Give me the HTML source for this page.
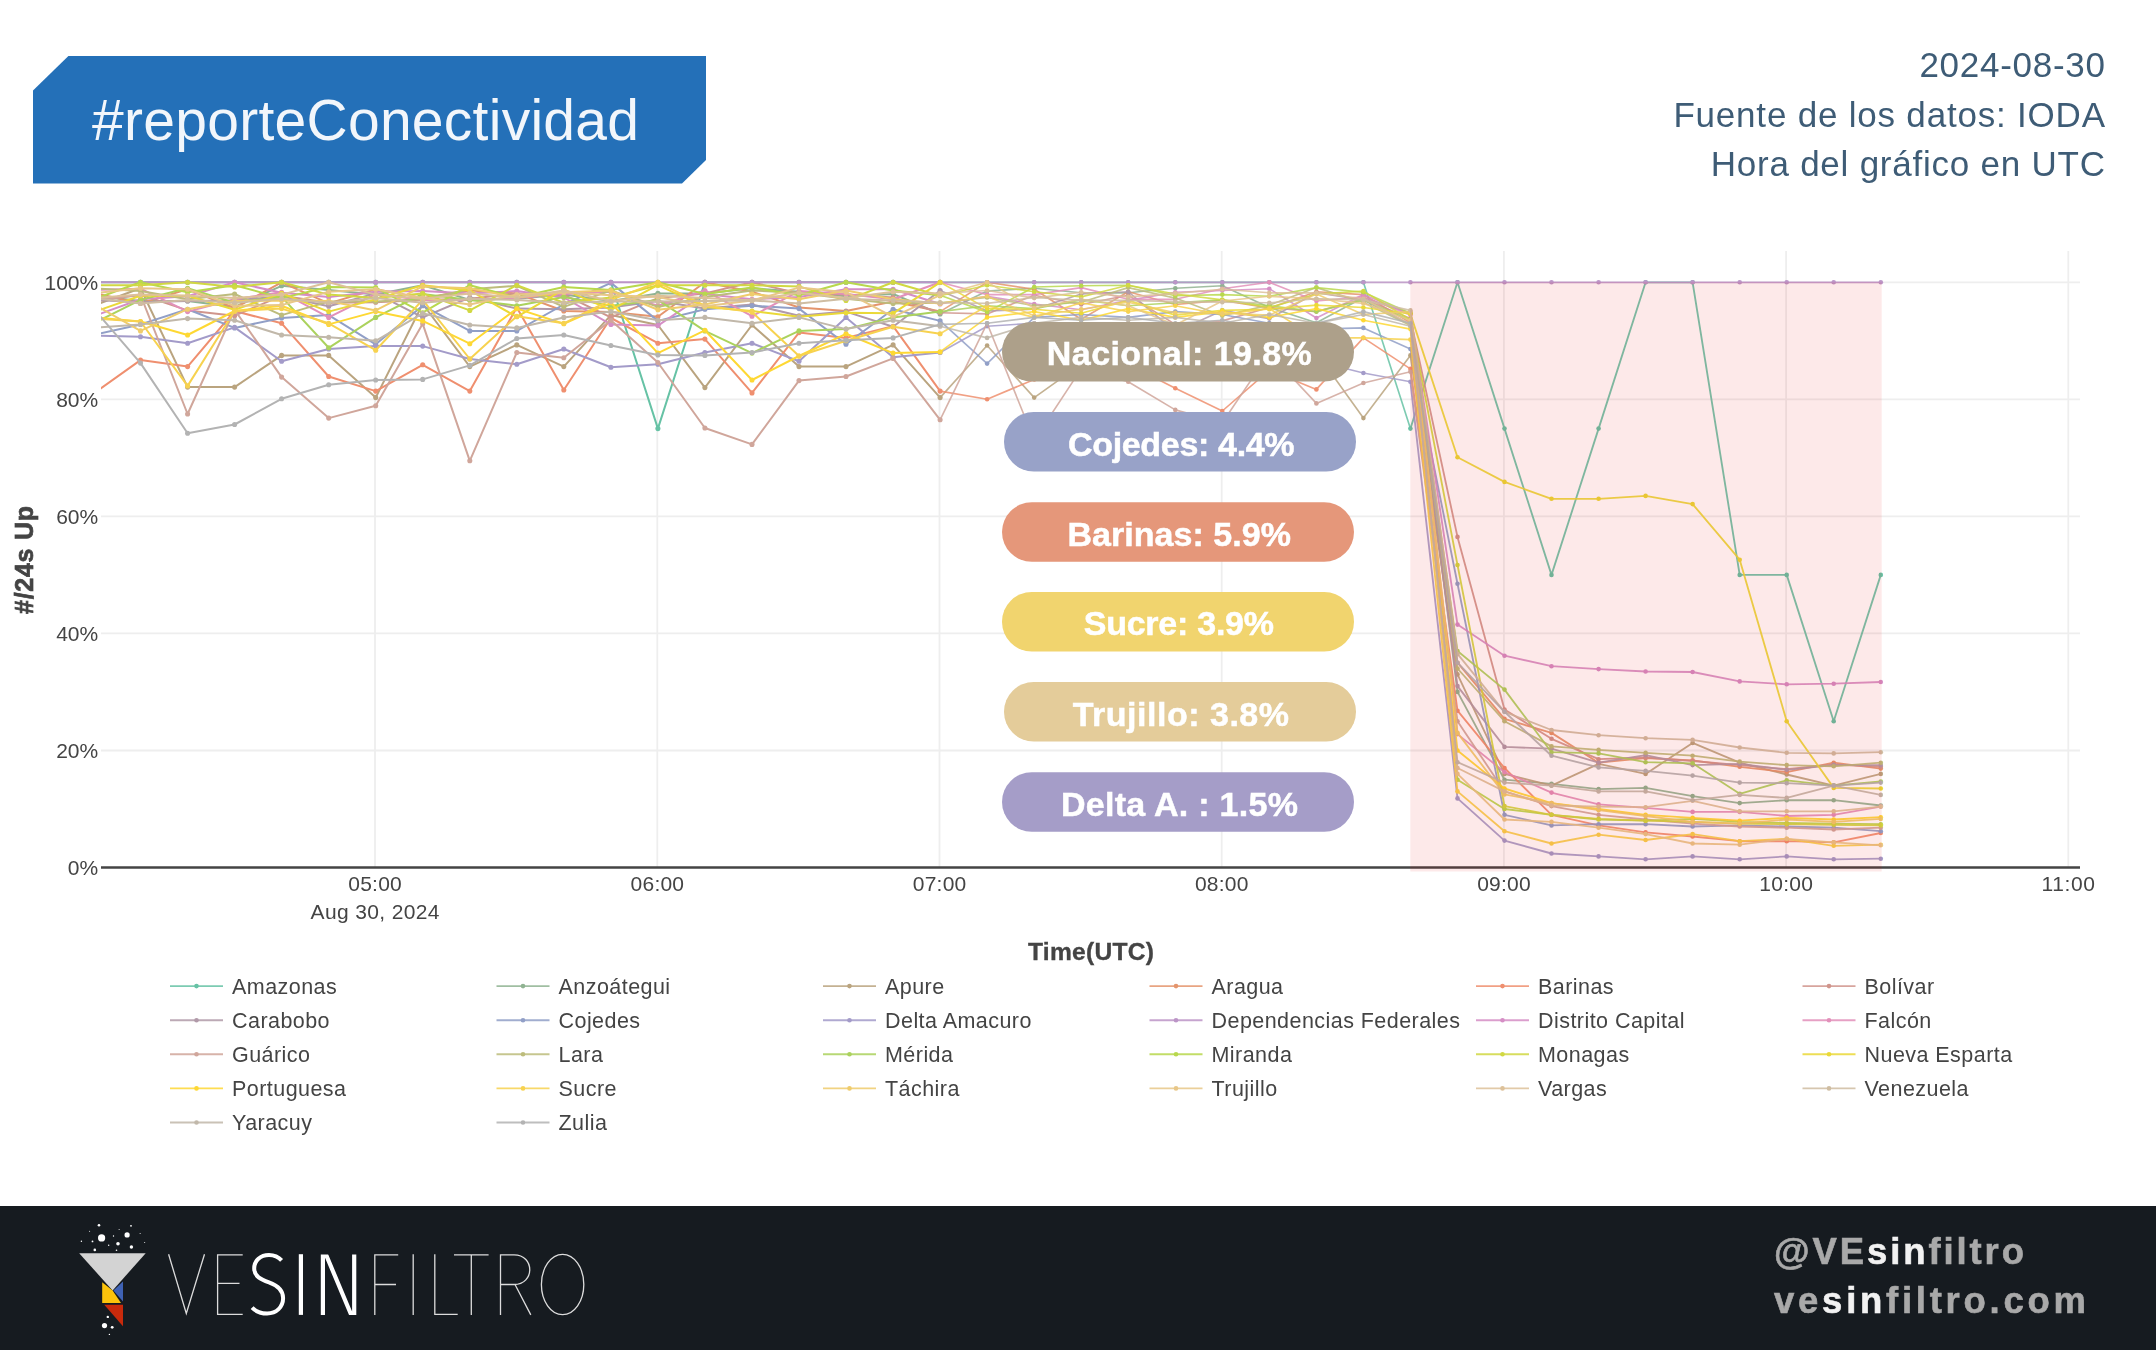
<!DOCTYPE html>
<html><head><meta charset="utf-8"><title>reporteConectividad</title>
<style>html,body{margin:0;padding:0;background:#fff;width:2156px;height:1350px;overflow:hidden;font-family:"Liberation Sans",sans-serif}</style></head>
<body>
<svg width="2156" height="1350" viewBox="0 0 2156 1350" style="position:absolute;left:0;top:0;will-change:transform;font-family:'Liberation Sans',sans-serif">
<defs><clipPath id="cp"><rect x="101" y="251" width="1979" height="621"/></clipPath></defs>
<line x1="375" y1="251" x2="375" y2="867" stroke="#eeeeee" stroke-width="1.8"/>
<line x1="657.3" y1="251" x2="657.3" y2="867" stroke="#eeeeee" stroke-width="1.8"/>
<line x1="939.5" y1="251" x2="939.5" y2="867" stroke="#eeeeee" stroke-width="1.8"/>
<line x1="1221.7" y1="251" x2="1221.7" y2="867" stroke="#eeeeee" stroke-width="1.8"/>
<line x1="1503.9" y1="251" x2="1503.9" y2="867" stroke="#eeeeee" stroke-width="1.8"/>
<line x1="1786.1" y1="251" x2="1786.1" y2="867" stroke="#eeeeee" stroke-width="1.8"/>
<line x1="2068.3" y1="251" x2="2068.3" y2="867" stroke="#eeeeee" stroke-width="1.8"/>
<line x1="101" y1="750.5" x2="2080" y2="750.5" stroke="#eeeeee" stroke-width="1.8"/>
<line x1="101" y1="633.4" x2="2080" y2="633.4" stroke="#eeeeee" stroke-width="1.8"/>
<line x1="101" y1="516.4" x2="2080" y2="516.4" stroke="#eeeeee" stroke-width="1.8"/>
<line x1="101" y1="399.3" x2="2080" y2="399.3" stroke="#eeeeee" stroke-width="1.8"/>
<line x1="101" y1="282.3" x2="2080" y2="282.3" stroke="#eeeeee" stroke-width="1.8"/>
<line x1="101" y1="867.5" x2="2080" y2="867.5" stroke="#444" stroke-width="2.4"/>
<g clip-path="url(#cp)" fill="none" stroke-linejoin="round" stroke-linecap="round">
<g opacity="1"><polyline points="93.5,282.3 140.5,282.3 187.6,282.3 234.6,282.3 281.6,282.3 328.7,282.3 375.7,282.3 422.7,282.3 469.8,282.3 516.8,282.3 563.8,282.3 610.9,282.3 657.9,428.6 704.9,282.3 752.0,282.3 799.0,282.3 846.0,282.3 893.1,282.3 940.1,282.3" stroke="rgb(102,194,165)" stroke-width="2.0"/><polyline points="940.1,282.3 987.1,282.3 1034.2,282.3 1081.2,282.3 1128.2,282.3 1175.3,282.3 1222.3,282.3 1269.3,282.3 1316.4,282.3 1363.4,282.3 1410.4,428.6" stroke="rgb(102,194,165)" stroke-width="1.65" opacity="0.85"/><polyline points="1410.4,428.6 1457.5,282.3 1504.5,428.6 1551.5,574.9 1598.6,428.6 1645.6,282.3 1692.6,282.3 1739.7,574.9 1786.7,574.9 1833.7,721.2 1880.8,574.9" stroke="rgb(102,194,165)" stroke-width="1.85" opacity="0.9"/>
<g fill="rgb(102,194,165)" stroke="none"><circle cx="93.5" cy="282.3" r="2.55"/><circle cx="140.5" cy="282.3" r="2.55"/><circle cx="187.6" cy="282.3" r="2.55"/><circle cx="234.6" cy="282.3" r="2.55"/><circle cx="281.6" cy="282.3" r="2.55"/><circle cx="328.7" cy="282.3" r="2.55"/><circle cx="375.7" cy="282.3" r="2.55"/><circle cx="422.7" cy="282.3" r="2.55"/><circle cx="469.8" cy="282.3" r="2.55"/><circle cx="516.8" cy="282.3" r="2.55"/><circle cx="563.8" cy="282.3" r="2.55"/><circle cx="610.9" cy="282.3" r="2.55"/><circle cx="657.9" cy="428.6" r="2.55"/><circle cx="704.9" cy="282.3" r="2.55"/><circle cx="752.0" cy="282.3" r="2.55"/><circle cx="799.0" cy="282.3" r="2.55"/><circle cx="846.0" cy="282.3" r="2.55"/><circle cx="893.1" cy="282.3" r="2.55"/><circle cx="940.1" cy="282.3" r="2.55"/><circle cx="987.1" cy="282.3" r="2.3"/><circle cx="1034.2" cy="282.3" r="2.3"/><circle cx="1081.2" cy="282.3" r="2.3"/><circle cx="1128.2" cy="282.3" r="2.3"/><circle cx="1175.3" cy="282.3" r="2.3"/><circle cx="1222.3" cy="282.3" r="2.3"/><circle cx="1269.3" cy="282.3" r="2.3"/><circle cx="1316.4" cy="282.3" r="2.3"/><circle cx="1363.4" cy="282.3" r="2.3"/><circle cx="1410.4" cy="428.6" r="2.3"/><circle cx="1457.5" cy="282.3" r="2.3"/><circle cx="1504.5" cy="428.6" r="2.3"/><circle cx="1551.5" cy="574.9" r="2.3"/><circle cx="1598.6" cy="428.6" r="2.3"/><circle cx="1645.6" cy="282.3" r="2.3"/><circle cx="1692.6" cy="282.3" r="2.3"/><circle cx="1739.7" cy="574.9" r="2.3"/><circle cx="1786.7" cy="574.9" r="2.3"/><circle cx="1833.7" cy="721.2" r="2.3"/><circle cx="1880.8" cy="574.9" r="2.3"/></g></g>
<g opacity="1"><polyline points="93.5,295.8 140.5,301.0 187.6,301.0 234.6,306.9 281.6,285.8 328.7,289.9 375.7,294.6 422.7,285.2 469.8,299.9 516.8,298.7 563.8,294.6 610.9,301.0 657.9,293.4 704.9,293.4 752.0,288.2 799.0,291.7 846.0,296.3 893.1,294.0 940.1,313.9" stroke="rgb(144,179,146)" stroke-width="2.0"/><polyline points="940.1,313.9 987.1,291.1 1034.2,288.2 1081.2,292.8 1128.2,292.8 1175.3,288.2 1222.3,285.8 1269.3,307.5 1316.4,322.7 1363.4,297.5 1410.4,313.3" stroke="rgb(144,179,146)" stroke-width="1.65" opacity="0.85"/><polyline points="1410.4,313.3 1457.5,691.9 1504.5,779.7 1551.5,783.8 1598.6,789.1 1645.6,787.9 1692.6,796.1 1739.7,803.1 1786.7,800.2 1833.7,800.2 1880.8,805.5" stroke="rgb(144,179,146)" stroke-width="1.85" opacity="0.9"/>
<g fill="rgb(144,179,146)" stroke="none"><circle cx="93.5" cy="295.8" r="2.55"/><circle cx="140.5" cy="301.0" r="2.55"/><circle cx="187.6" cy="301.0" r="2.55"/><circle cx="234.6" cy="306.9" r="2.55"/><circle cx="281.6" cy="285.8" r="2.55"/><circle cx="328.7" cy="289.9" r="2.55"/><circle cx="375.7" cy="294.6" r="2.55"/><circle cx="422.7" cy="285.2" r="2.55"/><circle cx="469.8" cy="299.9" r="2.55"/><circle cx="516.8" cy="298.7" r="2.55"/><circle cx="563.8" cy="294.6" r="2.55"/><circle cx="610.9" cy="301.0" r="2.55"/><circle cx="657.9" cy="293.4" r="2.55"/><circle cx="704.9" cy="293.4" r="2.55"/><circle cx="752.0" cy="288.2" r="2.55"/><circle cx="799.0" cy="291.7" r="2.55"/><circle cx="846.0" cy="296.3" r="2.55"/><circle cx="893.1" cy="294.0" r="2.55"/><circle cx="940.1" cy="313.9" r="2.55"/><circle cx="987.1" cy="291.1" r="2.3"/><circle cx="1034.2" cy="288.2" r="2.3"/><circle cx="1081.2" cy="292.8" r="2.3"/><circle cx="1128.2" cy="292.8" r="2.3"/><circle cx="1175.3" cy="288.2" r="2.3"/><circle cx="1222.3" cy="285.8" r="2.3"/><circle cx="1269.3" cy="307.5" r="2.3"/><circle cx="1316.4" cy="322.7" r="2.3"/><circle cx="1363.4" cy="297.5" r="2.3"/><circle cx="1410.4" cy="313.3" r="2.3"/><circle cx="1457.5" cy="691.9" r="2.3"/><circle cx="1504.5" cy="779.7" r="2.3"/><circle cx="1551.5" cy="783.8" r="2.3"/><circle cx="1598.6" cy="789.1" r="2.3"/><circle cx="1645.6" cy="787.9" r="2.3"/><circle cx="1692.6" cy="796.1" r="2.3"/><circle cx="1739.7" cy="803.1" r="2.3"/><circle cx="1786.7" cy="800.2" r="2.3"/><circle cx="1833.7" cy="800.2" r="2.3"/><circle cx="1880.8" cy="805.5" r="2.3"/></g></g>
<g opacity="1"><polyline points="93.5,305.7 140.5,288.2 187.6,387.1 234.6,387.1 281.6,355.4 328.7,355.4 375.7,397.6 422.7,304.0 469.8,366.6 516.8,344.9 563.8,366.6 610.9,315.1 657.9,325.0 704.9,387.6 752.0,325.0 799.0,366.6 846.0,366.6 893.1,344.9 940.1,397.6" stroke="rgb(186,164,127)" stroke-width="2.0"/><polyline points="940.1,397.6 987.1,345.5 1034.2,397.6 1081.2,364.2 1128.2,340.8 1175.3,329.1 1222.3,335.0 1269.3,323.3 1316.4,352.5 1363.4,418.1 1410.4,355.4" stroke="rgb(186,164,127)" stroke-width="1.65" opacity="0.85"/><polyline points="1410.4,355.4 1457.5,674.4 1504.5,773.9 1551.5,785.6 1598.6,763.9 1645.6,773.9 1692.6,742.9 1739.7,762.7 1786.7,774.5 1833.7,785.6 1880.8,773.9" stroke="rgb(186,164,127)" stroke-width="1.85" opacity="0.9"/>
<g fill="rgb(186,164,127)" stroke="none"><circle cx="93.5" cy="305.7" r="2.55"/><circle cx="140.5" cy="288.2" r="2.55"/><circle cx="187.6" cy="387.1" r="2.55"/><circle cx="234.6" cy="387.1" r="2.55"/><circle cx="281.6" cy="355.4" r="2.55"/><circle cx="328.7" cy="355.4" r="2.55"/><circle cx="375.7" cy="397.6" r="2.55"/><circle cx="422.7" cy="304.0" r="2.55"/><circle cx="469.8" cy="366.6" r="2.55"/><circle cx="516.8" cy="344.9" r="2.55"/><circle cx="563.8" cy="366.6" r="2.55"/><circle cx="610.9" cy="315.1" r="2.55"/><circle cx="657.9" cy="325.0" r="2.55"/><circle cx="704.9" cy="387.6" r="2.55"/><circle cx="752.0" cy="325.0" r="2.55"/><circle cx="799.0" cy="366.6" r="2.55"/><circle cx="846.0" cy="366.6" r="2.55"/><circle cx="893.1" cy="344.9" r="2.55"/><circle cx="940.1" cy="397.6" r="2.55"/><circle cx="987.1" cy="345.5" r="2.3"/><circle cx="1034.2" cy="397.6" r="2.3"/><circle cx="1081.2" cy="364.2" r="2.3"/><circle cx="1128.2" cy="340.8" r="2.3"/><circle cx="1175.3" cy="329.1" r="2.3"/><circle cx="1222.3" cy="335.0" r="2.3"/><circle cx="1269.3" cy="323.3" r="2.3"/><circle cx="1316.4" cy="352.5" r="2.3"/><circle cx="1363.4" cy="418.1" r="2.3"/><circle cx="1410.4" cy="355.4" r="2.3"/><circle cx="1457.5" cy="674.4" r="2.3"/><circle cx="1504.5" cy="773.9" r="2.3"/><circle cx="1551.5" cy="785.6" r="2.3"/><circle cx="1598.6" cy="763.9" r="2.3"/><circle cx="1645.6" cy="773.9" r="2.3"/><circle cx="1692.6" cy="742.9" r="2.3"/><circle cx="1739.7" cy="762.7" r="2.3"/><circle cx="1786.7" cy="774.5" r="2.3"/><circle cx="1833.7" cy="785.6" r="2.3"/><circle cx="1880.8" cy="773.9" r="2.3"/></g></g>
<g opacity="1"><polyline points="93.5,292.8 140.5,303.4 187.6,289.3 234.6,308.0 281.6,282.3 328.7,303.4 375.7,289.3 422.7,298.1 469.8,290.5 516.8,293.4 563.8,311.0 610.9,312.1 657.9,316.8 704.9,282.3 752.0,291.7 799.0,307.5 846.0,311.0 893.1,301.6 940.1,311.6" stroke="rgb(228,149,109)" stroke-width="2.0"/><polyline points="940.1,311.6 987.1,282.3 1034.2,289.3 1081.2,319.2 1128.2,291.7 1175.3,304.5 1222.3,300.4 1269.3,308.0 1316.4,291.7 1363.4,294.6 1410.4,322.7" stroke="rgb(228,149,109)" stroke-width="1.65" opacity="0.85"/><polyline points="1410.4,322.7 1457.5,662.7 1504.5,718.9 1551.5,732.9 1598.6,762.7 1645.6,758.1 1692.6,760.4 1739.7,766.8 1786.7,772.1 1833.7,762.7 1880.8,768.6" stroke="rgb(228,149,109)" stroke-width="1.85" opacity="0.9"/>
<g fill="rgb(228,149,109)" stroke="none"><circle cx="93.5" cy="292.8" r="2.55"/><circle cx="140.5" cy="303.4" r="2.55"/><circle cx="187.6" cy="289.3" r="2.55"/><circle cx="234.6" cy="308.0" r="2.55"/><circle cx="281.6" cy="282.3" r="2.55"/><circle cx="328.7" cy="303.4" r="2.55"/><circle cx="375.7" cy="289.3" r="2.55"/><circle cx="422.7" cy="298.1" r="2.55"/><circle cx="469.8" cy="290.5" r="2.55"/><circle cx="516.8" cy="293.4" r="2.55"/><circle cx="563.8" cy="311.0" r="2.55"/><circle cx="610.9" cy="312.1" r="2.55"/><circle cx="657.9" cy="316.8" r="2.55"/><circle cx="704.9" cy="282.3" r="2.55"/><circle cx="752.0" cy="291.7" r="2.55"/><circle cx="799.0" cy="307.5" r="2.55"/><circle cx="846.0" cy="311.0" r="2.55"/><circle cx="893.1" cy="301.6" r="2.55"/><circle cx="940.1" cy="311.6" r="2.55"/><circle cx="987.1" cy="282.3" r="2.3"/><circle cx="1034.2" cy="289.3" r="2.3"/><circle cx="1081.2" cy="319.2" r="2.3"/><circle cx="1128.2" cy="291.7" r="2.3"/><circle cx="1175.3" cy="304.5" r="2.3"/><circle cx="1222.3" cy="300.4" r="2.3"/><circle cx="1269.3" cy="308.0" r="2.3"/><circle cx="1316.4" cy="291.7" r="2.3"/><circle cx="1363.4" cy="294.6" r="2.3"/><circle cx="1410.4" cy="322.7" r="2.3"/><circle cx="1457.5" cy="662.7" r="2.3"/><circle cx="1504.5" cy="718.9" r="2.3"/><circle cx="1551.5" cy="732.9" r="2.3"/><circle cx="1598.6" cy="762.7" r="2.3"/><circle cx="1645.6" cy="758.1" r="2.3"/><circle cx="1692.6" cy="760.4" r="2.3"/><circle cx="1739.7" cy="766.8" r="2.3"/><circle cx="1786.7" cy="772.1" r="2.3"/><circle cx="1833.7" cy="762.7" r="2.3"/><circle cx="1880.8" cy="768.6" r="2.3"/></g></g>
<g opacity="1"><polyline points="93.5,393.5 140.5,360.1 187.6,366.6 234.6,311.0 281.6,323.3 328.7,376.5 375.7,391.1 422.7,364.8 469.8,391.1 516.8,307.5 563.8,390.0 610.9,318.0 657.9,343.2 704.9,339.1 752.0,392.9 799.0,332.6 846.0,337.9 893.1,326.2 940.1,391.1" stroke="rgb(239,143,111)" stroke-width="2.0"/><polyline points="940.1,391.1 987.1,399.3 1034.2,379.4 1081.2,352.5 1128.2,364.2 1175.3,388.2 1222.3,411.0 1269.3,370.1 1316.4,389.4 1363.4,337.9 1410.4,368.9" stroke="rgb(239,143,111)" stroke-width="1.65" opacity="0.85"/><polyline points="1410.4,368.9 1457.5,710.7 1504.5,768.0 1551.5,814.8 1598.6,825.4 1645.6,832.4 1692.6,836.5 1739.7,841.2 1786.7,841.2 1833.7,842.3 1880.8,833.0" stroke="rgb(239,143,111)" stroke-width="1.85" opacity="0.9"/>
<g fill="rgb(239,143,111)" stroke="none"><circle cx="93.5" cy="393.5" r="2.55"/><circle cx="140.5" cy="360.1" r="2.55"/><circle cx="187.6" cy="366.6" r="2.55"/><circle cx="234.6" cy="311.0" r="2.55"/><circle cx="281.6" cy="323.3" r="2.55"/><circle cx="328.7" cy="376.5" r="2.55"/><circle cx="375.7" cy="391.1" r="2.55"/><circle cx="422.7" cy="364.8" r="2.55"/><circle cx="469.8" cy="391.1" r="2.55"/><circle cx="516.8" cy="307.5" r="2.55"/><circle cx="563.8" cy="390.0" r="2.55"/><circle cx="610.9" cy="318.0" r="2.55"/><circle cx="657.9" cy="343.2" r="2.55"/><circle cx="704.9" cy="339.1" r="2.55"/><circle cx="752.0" cy="392.9" r="2.55"/><circle cx="799.0" cy="332.6" r="2.55"/><circle cx="846.0" cy="337.9" r="2.55"/><circle cx="893.1" cy="326.2" r="2.55"/><circle cx="940.1" cy="391.1" r="2.55"/><circle cx="987.1" cy="399.3" r="2.3"/><circle cx="1034.2" cy="379.4" r="2.3"/><circle cx="1081.2" cy="352.5" r="2.3"/><circle cx="1128.2" cy="364.2" r="2.3"/><circle cx="1175.3" cy="388.2" r="2.3"/><circle cx="1222.3" cy="411.0" r="2.3"/><circle cx="1269.3" cy="370.1" r="2.3"/><circle cx="1316.4" cy="389.4" r="2.3"/><circle cx="1363.4" cy="337.9" r="2.3"/><circle cx="1410.4" cy="368.9" r="2.3"/><circle cx="1457.5" cy="710.7" r="2.3"/><circle cx="1504.5" cy="768.0" r="2.3"/><circle cx="1551.5" cy="814.8" r="2.3"/><circle cx="1598.6" cy="825.4" r="2.3"/><circle cx="1645.6" cy="832.4" r="2.3"/><circle cx="1692.6" cy="836.5" r="2.3"/><circle cx="1739.7" cy="841.2" r="2.3"/><circle cx="1786.7" cy="841.2" r="2.3"/><circle cx="1833.7" cy="842.3" r="2.3"/><circle cx="1880.8" cy="833.0" r="2.3"/></g></g>
<g opacity="1"><polyline points="93.5,301.6 140.5,294.6 187.6,310.4 234.6,315.7 281.6,295.8 328.7,302.8 375.7,302.2 422.7,299.9 469.8,298.7 516.8,293.4 563.8,294.6 610.9,317.4 657.9,298.1 704.9,293.4 752.0,282.3 799.0,293.4 846.0,294.6 893.1,297.5 940.1,312.7" stroke="rgb(208,149,140)" stroke-width="2.0"/><polyline points="940.1,312.7 987.1,313.9 1034.2,295.2 1081.2,304.5 1128.2,295.2 1175.3,324.4 1222.3,320.9 1269.3,307.5 1316.4,311.6 1363.4,298.7 1410.4,318.6" stroke="rgb(208,149,140)" stroke-width="1.65" opacity="0.85"/><polyline points="1410.4,318.6 1457.5,536.9 1504.5,709.5 1551.5,738.8 1598.6,759.2 1645.6,757.5 1692.6,761.0 1739.7,765.1 1786.7,769.2 1833.7,764.5 1880.8,766.8" stroke="rgb(208,149,140)" stroke-width="1.85" opacity="0.9"/>
<g fill="rgb(208,149,140)" stroke="none"><circle cx="93.5" cy="301.6" r="2.55"/><circle cx="140.5" cy="294.6" r="2.55"/><circle cx="187.6" cy="310.4" r="2.55"/><circle cx="234.6" cy="315.7" r="2.55"/><circle cx="281.6" cy="295.8" r="2.55"/><circle cx="328.7" cy="302.8" r="2.55"/><circle cx="375.7" cy="302.2" r="2.55"/><circle cx="422.7" cy="299.9" r="2.55"/><circle cx="469.8" cy="298.7" r="2.55"/><circle cx="516.8" cy="293.4" r="2.55"/><circle cx="563.8" cy="294.6" r="2.55"/><circle cx="610.9" cy="317.4" r="2.55"/><circle cx="657.9" cy="298.1" r="2.55"/><circle cx="704.9" cy="293.4" r="2.55"/><circle cx="752.0" cy="282.3" r="2.55"/><circle cx="799.0" cy="293.4" r="2.55"/><circle cx="846.0" cy="294.6" r="2.55"/><circle cx="893.1" cy="297.5" r="2.55"/><circle cx="940.1" cy="312.7" r="2.55"/><circle cx="987.1" cy="313.9" r="2.3"/><circle cx="1034.2" cy="295.2" r="2.3"/><circle cx="1081.2" cy="304.5" r="2.3"/><circle cx="1128.2" cy="295.2" r="2.3"/><circle cx="1175.3" cy="324.4" r="2.3"/><circle cx="1222.3" cy="320.9" r="2.3"/><circle cx="1269.3" cy="307.5" r="2.3"/><circle cx="1316.4" cy="311.6" r="2.3"/><circle cx="1363.4" cy="298.7" r="2.3"/><circle cx="1410.4" cy="318.6" r="2.3"/><circle cx="1457.5" cy="536.9" r="2.3"/><circle cx="1504.5" cy="709.5" r="2.3"/><circle cx="1551.5" cy="738.8" r="2.3"/><circle cx="1598.6" cy="759.2" r="2.3"/><circle cx="1645.6" cy="757.5" r="2.3"/><circle cx="1692.6" cy="761.0" r="2.3"/><circle cx="1739.7" cy="765.1" r="2.3"/><circle cx="1786.7" cy="769.2" r="2.3"/><circle cx="1833.7" cy="764.5" r="2.3"/><circle cx="1880.8" cy="766.8" r="2.3"/></g></g>
<g opacity="1"><polyline points="93.5,299.9 140.5,302.2 187.6,301.0 234.6,300.4 281.6,296.3 328.7,306.3 375.7,293.4 422.7,317.4 469.8,297.5 516.8,308.6 563.8,309.2 610.9,307.5 657.9,301.0 704.9,308.6 752.0,304.5 799.0,315.7 846.0,311.6 893.1,326.8 940.1,290.5" stroke="rgb(177,154,169)" stroke-width="2.0"/><polyline points="940.1,290.5 987.1,311.0 1034.2,309.2 1081.2,294.0 1128.2,291.7 1175.3,332.0 1222.3,310.4 1269.3,318.6 1316.4,292.8 1363.4,299.9 1410.4,324.4" stroke="rgb(177,154,169)" stroke-width="1.65" opacity="0.85"/><polyline points="1410.4,324.4 1457.5,686.1 1504.5,746.9 1551.5,748.7 1598.6,762.7 1645.6,755.1 1692.6,765.1 1739.7,763.9 1786.7,769.8 1833.7,765.1 1880.8,765.1" stroke="rgb(177,154,169)" stroke-width="1.85" opacity="0.9"/>
<g fill="rgb(177,154,169)" stroke="none"><circle cx="93.5" cy="299.9" r="2.55"/><circle cx="140.5" cy="302.2" r="2.55"/><circle cx="187.6" cy="301.0" r="2.55"/><circle cx="234.6" cy="300.4" r="2.55"/><circle cx="281.6" cy="296.3" r="2.55"/><circle cx="328.7" cy="306.3" r="2.55"/><circle cx="375.7" cy="293.4" r="2.55"/><circle cx="422.7" cy="317.4" r="2.55"/><circle cx="469.8" cy="297.5" r="2.55"/><circle cx="516.8" cy="308.6" r="2.55"/><circle cx="563.8" cy="309.2" r="2.55"/><circle cx="610.9" cy="307.5" r="2.55"/><circle cx="657.9" cy="301.0" r="2.55"/><circle cx="704.9" cy="308.6" r="2.55"/><circle cx="752.0" cy="304.5" r="2.55"/><circle cx="799.0" cy="315.7" r="2.55"/><circle cx="846.0" cy="311.6" r="2.55"/><circle cx="893.1" cy="326.8" r="2.55"/><circle cx="940.1" cy="290.5" r="2.55"/><circle cx="987.1" cy="311.0" r="2.3"/><circle cx="1034.2" cy="309.2" r="2.3"/><circle cx="1081.2" cy="294.0" r="2.3"/><circle cx="1128.2" cy="291.7" r="2.3"/><circle cx="1175.3" cy="332.0" r="2.3"/><circle cx="1222.3" cy="310.4" r="2.3"/><circle cx="1269.3" cy="318.6" r="2.3"/><circle cx="1316.4" cy="292.8" r="2.3"/><circle cx="1363.4" cy="299.9" r="2.3"/><circle cx="1410.4" cy="324.4" r="2.3"/><circle cx="1457.5" cy="686.1" r="2.3"/><circle cx="1504.5" cy="746.9" r="2.3"/><circle cx="1551.5" cy="748.7" r="2.3"/><circle cx="1598.6" cy="762.7" r="2.3"/><circle cx="1645.6" cy="755.1" r="2.3"/><circle cx="1692.6" cy="765.1" r="2.3"/><circle cx="1739.7" cy="763.9" r="2.3"/><circle cx="1786.7" cy="769.8" r="2.3"/><circle cx="1833.7" cy="765.1" r="2.3"/><circle cx="1880.8" cy="765.1" r="2.3"/></g></g>
<g opacity="1"><polyline points="93.5,335.0 140.5,324.4 187.6,309.2 234.6,327.9 281.6,318.0 328.7,315.1 375.7,344.3 422.7,305.7 469.8,330.9 516.8,330.9 563.8,304.5 610.9,282.9 657.9,320.9 704.9,309.2 752.0,305.7 799.0,308.6 846.0,344.3 893.1,309.2 940.1,320.9" stroke="rgb(145,159,199)" stroke-width="2.0"/><polyline points="940.1,320.9 987.1,363.6 1034.2,317.4 1081.2,314.5 1128.2,317.4 1175.3,311.6 1222.3,314.5 1269.3,323.3 1316.4,329.1 1363.4,327.9 1410.4,349.0" stroke="rgb(145,159,199)" stroke-width="1.65" opacity="0.85"/><polyline points="1410.4,349.0 1457.5,583.7 1504.5,814.8 1551.5,825.4 1598.6,824.2 1645.6,824.2 1692.6,826.5 1739.7,825.4 1786.7,826.5 1833.7,827.7 1880.8,831.2" stroke="rgb(145,159,199)" stroke-width="1.85" opacity="0.9"/>
<g fill="rgb(145,159,199)" stroke="none"><circle cx="93.5" cy="335.0" r="2.55"/><circle cx="140.5" cy="324.4" r="2.55"/><circle cx="187.6" cy="309.2" r="2.55"/><circle cx="234.6" cy="327.9" r="2.55"/><circle cx="281.6" cy="318.0" r="2.55"/><circle cx="328.7" cy="315.1" r="2.55"/><circle cx="375.7" cy="344.3" r="2.55"/><circle cx="422.7" cy="305.7" r="2.55"/><circle cx="469.8" cy="330.9" r="2.55"/><circle cx="516.8" cy="330.9" r="2.55"/><circle cx="563.8" cy="304.5" r="2.55"/><circle cx="610.9" cy="282.9" r="2.55"/><circle cx="657.9" cy="320.9" r="2.55"/><circle cx="704.9" cy="309.2" r="2.55"/><circle cx="752.0" cy="305.7" r="2.55"/><circle cx="799.0" cy="308.6" r="2.55"/><circle cx="846.0" cy="344.3" r="2.55"/><circle cx="893.1" cy="309.2" r="2.55"/><circle cx="940.1" cy="320.9" r="2.55"/><circle cx="987.1" cy="363.6" r="2.3"/><circle cx="1034.2" cy="317.4" r="2.3"/><circle cx="1081.2" cy="314.5" r="2.3"/><circle cx="1128.2" cy="317.4" r="2.3"/><circle cx="1175.3" cy="311.6" r="2.3"/><circle cx="1222.3" cy="314.5" r="2.3"/><circle cx="1269.3" cy="323.3" r="2.3"/><circle cx="1316.4" cy="329.1" r="2.3"/><circle cx="1363.4" cy="327.9" r="2.3"/><circle cx="1410.4" cy="349.0" r="2.3"/><circle cx="1457.5" cy="583.7" r="2.3"/><circle cx="1504.5" cy="814.8" r="2.3"/><circle cx="1551.5" cy="825.4" r="2.3"/><circle cx="1598.6" cy="824.2" r="2.3"/><circle cx="1645.6" cy="824.2" r="2.3"/><circle cx="1692.6" cy="826.5" r="2.3"/><circle cx="1739.7" cy="825.4" r="2.3"/><circle cx="1786.7" cy="826.5" r="2.3"/><circle cx="1833.7" cy="827.7" r="2.3"/><circle cx="1880.8" cy="831.2" r="2.3"/></g></g>
<g opacity="1"><polyline points="93.5,335.6 140.5,336.7 187.6,343.2 234.6,327.4 281.6,361.3 328.7,349.0 375.7,346.1 422.7,346.1 469.8,359.0 516.8,364.2 563.8,349.0 610.9,367.2 657.9,364.2 704.9,352.5 752.0,343.2 799.0,361.3 846.0,317.4 893.1,357.2 940.1,352.5" stroke="rgb(163,155,201)" stroke-width="2.0"/><polyline points="940.1,352.5 987.1,326.2 1034.2,323.3 1081.2,335.0 1128.2,340.8 1175.3,352.5 1222.3,358.4 1269.3,352.5 1316.4,361.3 1363.4,373.0 1410.4,381.8" stroke="rgb(163,155,201)" stroke-width="1.65" opacity="0.85"/><polyline points="1410.4,381.8 1457.5,798.4 1504.5,840.6 1551.5,853.5 1598.6,856.4 1645.6,859.3 1692.6,856.4 1739.7,859.3 1786.7,856.4 1833.7,859.3 1880.8,858.7" stroke="rgb(163,155,201)" stroke-width="1.85" opacity="0.9"/>
<g fill="rgb(163,155,201)" stroke="none"><circle cx="93.5" cy="335.6" r="2.55"/><circle cx="140.5" cy="336.7" r="2.55"/><circle cx="187.6" cy="343.2" r="2.55"/><circle cx="234.6" cy="327.4" r="2.55"/><circle cx="281.6" cy="361.3" r="2.55"/><circle cx="328.7" cy="349.0" r="2.55"/><circle cx="375.7" cy="346.1" r="2.55"/><circle cx="422.7" cy="346.1" r="2.55"/><circle cx="469.8" cy="359.0" r="2.55"/><circle cx="516.8" cy="364.2" r="2.55"/><circle cx="563.8" cy="349.0" r="2.55"/><circle cx="610.9" cy="367.2" r="2.55"/><circle cx="657.9" cy="364.2" r="2.55"/><circle cx="704.9" cy="352.5" r="2.55"/><circle cx="752.0" cy="343.2" r="2.55"/><circle cx="799.0" cy="361.3" r="2.55"/><circle cx="846.0" cy="317.4" r="2.55"/><circle cx="893.1" cy="357.2" r="2.55"/><circle cx="940.1" cy="352.5" r="2.55"/><circle cx="987.1" cy="326.2" r="2.3"/><circle cx="1034.2" cy="323.3" r="2.3"/><circle cx="1081.2" cy="335.0" r="2.3"/><circle cx="1128.2" cy="340.8" r="2.3"/><circle cx="1175.3" cy="352.5" r="2.3"/><circle cx="1222.3" cy="358.4" r="2.3"/><circle cx="1269.3" cy="352.5" r="2.3"/><circle cx="1316.4" cy="361.3" r="2.3"/><circle cx="1363.4" cy="373.0" r="2.3"/><circle cx="1410.4" cy="381.8" r="2.3"/><circle cx="1457.5" cy="798.4" r="2.3"/><circle cx="1504.5" cy="840.6" r="2.3"/><circle cx="1551.5" cy="853.5" r="2.3"/><circle cx="1598.6" cy="856.4" r="2.3"/><circle cx="1645.6" cy="859.3" r="2.3"/><circle cx="1692.6" cy="856.4" r="2.3"/><circle cx="1739.7" cy="859.3" r="2.3"/><circle cx="1786.7" cy="856.4" r="2.3"/><circle cx="1833.7" cy="859.3" r="2.3"/><circle cx="1880.8" cy="858.7" r="2.3"/></g></g>
<g opacity="1"><polyline points="93.5,282.3 140.5,282.3 187.6,282.3 234.6,282.3 281.6,282.3 328.7,282.3 375.7,282.3 422.7,282.3 469.8,282.3 516.8,282.3 563.8,282.3 610.9,282.3 657.9,282.3 704.9,282.3 752.0,282.3 799.0,282.3 846.0,282.3 893.1,282.3 940.1,282.3" stroke="rgb(188,149,199)" stroke-width="2.0"/><polyline points="940.1,282.3 987.1,282.3 1034.2,282.3 1081.2,282.3 1128.2,282.3 1175.3,282.3 1222.3,282.3 1269.3,282.3 1316.4,282.3 1363.4,282.3 1410.4,282.3" stroke="rgb(188,149,199)" stroke-width="1.65" opacity="0.85"/><polyline points="1410.4,282.3 1457.5,282.3 1504.5,282.3 1551.5,282.3 1598.6,282.3 1645.6,282.3 1692.6,282.3 1739.7,282.3 1786.7,282.3 1833.7,282.3 1880.8,282.3" stroke="rgb(188,149,199)" stroke-width="1.85" opacity="0.9"/>
<g fill="rgb(188,149,199)" stroke="none"><circle cx="93.5" cy="282.3" r="2.55"/><circle cx="140.5" cy="282.3" r="2.55"/><circle cx="187.6" cy="282.3" r="2.55"/><circle cx="234.6" cy="282.3" r="2.55"/><circle cx="281.6" cy="282.3" r="2.55"/><circle cx="328.7" cy="282.3" r="2.55"/><circle cx="375.7" cy="282.3" r="2.55"/><circle cx="422.7" cy="282.3" r="2.55"/><circle cx="469.8" cy="282.3" r="2.55"/><circle cx="516.8" cy="282.3" r="2.55"/><circle cx="563.8" cy="282.3" r="2.55"/><circle cx="610.9" cy="282.3" r="2.55"/><circle cx="657.9" cy="282.3" r="2.55"/><circle cx="704.9" cy="282.3" r="2.55"/><circle cx="752.0" cy="282.3" r="2.55"/><circle cx="799.0" cy="282.3" r="2.55"/><circle cx="846.0" cy="282.3" r="2.55"/><circle cx="893.1" cy="282.3" r="2.55"/><circle cx="940.1" cy="282.3" r="2.55"/><circle cx="987.1" cy="282.3" r="2.3"/><circle cx="1034.2" cy="282.3" r="2.3"/><circle cx="1081.2" cy="282.3" r="2.3"/><circle cx="1128.2" cy="282.3" r="2.3"/><circle cx="1175.3" cy="282.3" r="2.3"/><circle cx="1222.3" cy="282.3" r="2.3"/><circle cx="1269.3" cy="282.3" r="2.3"/><circle cx="1316.4" cy="282.3" r="2.3"/><circle cx="1363.4" cy="282.3" r="2.3"/><circle cx="1410.4" cy="282.3" r="2.3"/><circle cx="1457.5" cy="282.3" r="2.3"/><circle cx="1504.5" cy="282.3" r="2.3"/><circle cx="1551.5" cy="282.3" r="2.3"/><circle cx="1598.6" cy="282.3" r="2.3"/><circle cx="1645.6" cy="282.3" r="2.3"/><circle cx="1692.6" cy="282.3" r="2.3"/><circle cx="1739.7" cy="282.3" r="2.3"/><circle cx="1786.7" cy="282.3" r="2.3"/><circle cx="1833.7" cy="282.3" r="2.3"/><circle cx="1880.8" cy="282.3" r="2.3"/></g></g>
<g opacity="1"><polyline points="93.5,316.2 140.5,299.3 187.6,296.3 234.6,282.3 281.6,292.8 328.7,296.9 375.7,291.7 422.7,291.1 469.8,293.4 516.8,291.1 563.8,297.5 610.9,324.4 657.9,325.6 704.9,294.0 752.0,299.3 799.0,296.9 846.0,289.3 893.1,289.3 940.1,304.0" stroke="rgb(213,142,197)" stroke-width="2.0"/><polyline points="940.1,304.0 987.1,296.3 1034.2,304.0 1081.2,309.8 1128.2,300.4 1175.3,292.2 1222.3,290.5 1269.3,288.7 1316.4,318.0 1363.4,294.6 1410.4,313.9" stroke="rgb(213,142,197)" stroke-width="1.65" opacity="0.85"/><polyline points="1410.4,313.9 1457.5,624.6 1504.5,655.7 1551.5,666.2 1598.6,669.1 1645.6,671.5 1692.6,672.0 1739.7,681.4 1786.7,684.3 1833.7,683.7 1880.8,682.0" stroke="rgb(213,142,197)" stroke-width="1.85" opacity="0.9"/>
<g fill="rgb(213,142,197)" stroke="none"><circle cx="93.5" cy="316.2" r="2.55"/><circle cx="140.5" cy="299.3" r="2.55"/><circle cx="187.6" cy="296.3" r="2.55"/><circle cx="234.6" cy="282.3" r="2.55"/><circle cx="281.6" cy="292.8" r="2.55"/><circle cx="328.7" cy="296.9" r="2.55"/><circle cx="375.7" cy="291.7" r="2.55"/><circle cx="422.7" cy="291.1" r="2.55"/><circle cx="469.8" cy="293.4" r="2.55"/><circle cx="516.8" cy="291.1" r="2.55"/><circle cx="563.8" cy="297.5" r="2.55"/><circle cx="610.9" cy="324.4" r="2.55"/><circle cx="657.9" cy="325.6" r="2.55"/><circle cx="704.9" cy="294.0" r="2.55"/><circle cx="752.0" cy="299.3" r="2.55"/><circle cx="799.0" cy="296.9" r="2.55"/><circle cx="846.0" cy="289.3" r="2.55"/><circle cx="893.1" cy="289.3" r="2.55"/><circle cx="940.1" cy="304.0" r="2.55"/><circle cx="987.1" cy="296.3" r="2.3"/><circle cx="1034.2" cy="304.0" r="2.3"/><circle cx="1081.2" cy="309.8" r="2.3"/><circle cx="1128.2" cy="300.4" r="2.3"/><circle cx="1175.3" cy="292.2" r="2.3"/><circle cx="1222.3" cy="290.5" r="2.3"/><circle cx="1269.3" cy="288.7" r="2.3"/><circle cx="1316.4" cy="318.0" r="2.3"/><circle cx="1363.4" cy="294.6" r="2.3"/><circle cx="1410.4" cy="313.9" r="2.3"/><circle cx="1457.5" cy="624.6" r="2.3"/><circle cx="1504.5" cy="655.7" r="2.3"/><circle cx="1551.5" cy="666.2" r="2.3"/><circle cx="1598.6" cy="669.1" r="2.3"/><circle cx="1645.6" cy="671.5" r="2.3"/><circle cx="1692.6" cy="672.0" r="2.3"/><circle cx="1739.7" cy="681.4" r="2.3"/><circle cx="1786.7" cy="684.3" r="2.3"/><circle cx="1833.7" cy="683.7" r="2.3"/><circle cx="1880.8" cy="682.0" r="2.3"/></g></g>
<g opacity="1"><polyline points="93.5,289.9 140.5,288.7 187.6,311.6 234.6,299.3 281.6,292.2 328.7,317.4 375.7,294.0 422.7,299.9 469.8,299.9 516.8,298.1 563.8,294.0 610.9,291.7 657.9,305.7 704.9,290.5 752.0,316.2 799.0,291.1 846.0,294.0 893.1,299.3 940.1,282.3" stroke="rgb(226,144,186)" stroke-width="2.0"/><polyline points="940.1,282.3 987.1,294.6 1034.2,294.6 1081.2,287.6 1128.2,299.3 1175.3,299.3 1222.3,288.7 1269.3,282.3 1316.4,301.0 1363.4,296.9 1410.4,315.1" stroke="rgb(226,144,186)" stroke-width="1.65" opacity="0.85"/><polyline points="1410.4,315.1 1457.5,734.1 1504.5,772.1 1551.5,792.6 1598.6,804.3 1645.6,807.8 1692.6,811.9 1739.7,811.9 1786.7,816.0 1833.7,814.8 1880.8,806.6" stroke="rgb(226,144,186)" stroke-width="1.85" opacity="0.9"/>
<g fill="rgb(226,144,186)" stroke="none"><circle cx="93.5" cy="289.9" r="2.55"/><circle cx="140.5" cy="288.7" r="2.55"/><circle cx="187.6" cy="311.6" r="2.55"/><circle cx="234.6" cy="299.3" r="2.55"/><circle cx="281.6" cy="292.2" r="2.55"/><circle cx="328.7" cy="317.4" r="2.55"/><circle cx="375.7" cy="294.0" r="2.55"/><circle cx="422.7" cy="299.9" r="2.55"/><circle cx="469.8" cy="299.9" r="2.55"/><circle cx="516.8" cy="298.1" r="2.55"/><circle cx="563.8" cy="294.0" r="2.55"/><circle cx="610.9" cy="291.7" r="2.55"/><circle cx="657.9" cy="305.7" r="2.55"/><circle cx="704.9" cy="290.5" r="2.55"/><circle cx="752.0" cy="316.2" r="2.55"/><circle cx="799.0" cy="291.1" r="2.55"/><circle cx="846.0" cy="294.0" r="2.55"/><circle cx="893.1" cy="299.3" r="2.55"/><circle cx="940.1" cy="282.3" r="2.55"/><circle cx="987.1" cy="294.6" r="2.3"/><circle cx="1034.2" cy="294.6" r="2.3"/><circle cx="1081.2" cy="287.6" r="2.3"/><circle cx="1128.2" cy="299.3" r="2.3"/><circle cx="1175.3" cy="299.3" r="2.3"/><circle cx="1222.3" cy="288.7" r="2.3"/><circle cx="1269.3" cy="282.3" r="2.3"/><circle cx="1316.4" cy="301.0" r="2.3"/><circle cx="1363.4" cy="296.9" r="2.3"/><circle cx="1410.4" cy="315.1" r="2.3"/><circle cx="1457.5" cy="734.1" r="2.3"/><circle cx="1504.5" cy="772.1" r="2.3"/><circle cx="1551.5" cy="792.6" r="2.3"/><circle cx="1598.6" cy="804.3" r="2.3"/><circle cx="1645.6" cy="807.8" r="2.3"/><circle cx="1692.6" cy="811.9" r="2.3"/><circle cx="1739.7" cy="811.9" r="2.3"/><circle cx="1786.7" cy="816.0" r="2.3"/><circle cx="1833.7" cy="814.8" r="2.3"/><circle cx="1880.8" cy="806.6" r="2.3"/></g></g>
<g opacity="1"><polyline points="93.5,299.9 140.5,295.2 187.6,414.0 234.6,309.8 281.6,377.1 328.7,418.1 375.7,405.8 422.7,323.8 469.8,460.8 516.8,352.5 563.8,357.8 610.9,320.3 657.9,362.5 704.9,428.0 752.0,444.4 799.0,380.6 846.0,376.5 893.1,358.4 940.1,419.8" stroke="rgb(208,166,155)" stroke-width="2.0"/><polyline points="940.1,419.8 987.1,323.3 1034.2,440.3 1081.2,368.9 1128.2,381.8 1175.3,409.9 1222.3,422.7 1269.3,353.1 1316.4,403.4 1363.4,383.0 1410.4,371.8" stroke="rgb(208,166,155)" stroke-width="1.65" opacity="0.85"/><polyline points="1410.4,371.8 1457.5,721.2 1504.5,791.4 1551.5,806.1 1598.6,814.8 1645.6,819.5 1692.6,823.6 1739.7,826.5 1786.7,827.7 1833.7,829.5 1880.8,827.7" stroke="rgb(208,166,155)" stroke-width="1.85" opacity="0.9"/>
<g fill="rgb(208,166,155)" stroke="none"><circle cx="93.5" cy="299.9" r="2.55"/><circle cx="140.5" cy="295.2" r="2.55"/><circle cx="187.6" cy="414.0" r="2.55"/><circle cx="234.6" cy="309.8" r="2.55"/><circle cx="281.6" cy="377.1" r="2.55"/><circle cx="328.7" cy="418.1" r="2.55"/><circle cx="375.7" cy="405.8" r="2.55"/><circle cx="422.7" cy="323.8" r="2.55"/><circle cx="469.8" cy="460.8" r="2.55"/><circle cx="516.8" cy="352.5" r="2.55"/><circle cx="563.8" cy="357.8" r="2.55"/><circle cx="610.9" cy="320.3" r="2.55"/><circle cx="657.9" cy="362.5" r="2.55"/><circle cx="704.9" cy="428.0" r="2.55"/><circle cx="752.0" cy="444.4" r="2.55"/><circle cx="799.0" cy="380.6" r="2.55"/><circle cx="846.0" cy="376.5" r="2.55"/><circle cx="893.1" cy="358.4" r="2.55"/><circle cx="940.1" cy="419.8" r="2.55"/><circle cx="987.1" cy="323.3" r="2.3"/><circle cx="1034.2" cy="440.3" r="2.3"/><circle cx="1081.2" cy="368.9" r="2.3"/><circle cx="1128.2" cy="381.8" r="2.3"/><circle cx="1175.3" cy="409.9" r="2.3"/><circle cx="1222.3" cy="422.7" r="2.3"/><circle cx="1269.3" cy="353.1" r="2.3"/><circle cx="1316.4" cy="403.4" r="2.3"/><circle cx="1363.4" cy="383.0" r="2.3"/><circle cx="1410.4" cy="371.8" r="2.3"/><circle cx="1457.5" cy="721.2" r="2.3"/><circle cx="1504.5" cy="791.4" r="2.3"/><circle cx="1551.5" cy="806.1" r="2.3"/><circle cx="1598.6" cy="814.8" r="2.3"/><circle cx="1645.6" cy="819.5" r="2.3"/><circle cx="1692.6" cy="823.6" r="2.3"/><circle cx="1739.7" cy="826.5" r="2.3"/><circle cx="1786.7" cy="827.7" r="2.3"/><circle cx="1833.7" cy="829.5" r="2.3"/><circle cx="1880.8" cy="827.7" r="2.3"/></g></g>
<g opacity="1"><polyline points="93.5,288.2 140.5,291.1 187.6,299.3 234.6,294.0 281.6,315.1 328.7,301.6 375.7,301.6 422.7,299.3 469.8,289.3 516.8,285.8 563.8,306.9 610.9,290.5 657.9,306.9 704.9,296.9 752.0,290.5 799.0,292.8 846.0,298.7 893.1,303.4 940.1,302.8" stroke="rgb(189,188,124)" stroke-width="2.0"/><polyline points="940.1,302.8 987.1,297.5 1034.2,305.7 1081.2,302.2 1128.2,287.6 1175.3,298.1 1222.3,315.7 1269.3,305.1 1316.4,287.6 1363.4,302.2 1410.4,325.6" stroke="rgb(189,188,124)" stroke-width="1.65" opacity="0.85"/><polyline points="1410.4,325.6 1457.5,668.5 1504.5,721.2 1551.5,746.4 1598.6,749.9 1645.6,752.8 1692.6,755.7 1739.7,761.6 1786.7,765.1 1833.7,766.3 1880.8,762.7" stroke="rgb(189,188,124)" stroke-width="1.85" opacity="0.9"/>
<g fill="rgb(189,188,124)" stroke="none"><circle cx="93.5" cy="288.2" r="2.55"/><circle cx="140.5" cy="291.1" r="2.55"/><circle cx="187.6" cy="299.3" r="2.55"/><circle cx="234.6" cy="294.0" r="2.55"/><circle cx="281.6" cy="315.1" r="2.55"/><circle cx="328.7" cy="301.6" r="2.55"/><circle cx="375.7" cy="301.6" r="2.55"/><circle cx="422.7" cy="299.3" r="2.55"/><circle cx="469.8" cy="289.3" r="2.55"/><circle cx="516.8" cy="285.8" r="2.55"/><circle cx="563.8" cy="306.9" r="2.55"/><circle cx="610.9" cy="290.5" r="2.55"/><circle cx="657.9" cy="306.9" r="2.55"/><circle cx="704.9" cy="296.9" r="2.55"/><circle cx="752.0" cy="290.5" r="2.55"/><circle cx="799.0" cy="292.8" r="2.55"/><circle cx="846.0" cy="298.7" r="2.55"/><circle cx="893.1" cy="303.4" r="2.55"/><circle cx="940.1" cy="302.8" r="2.55"/><circle cx="987.1" cy="297.5" r="2.3"/><circle cx="1034.2" cy="305.7" r="2.3"/><circle cx="1081.2" cy="302.2" r="2.3"/><circle cx="1128.2" cy="287.6" r="2.3"/><circle cx="1175.3" cy="298.1" r="2.3"/><circle cx="1222.3" cy="315.7" r="2.3"/><circle cx="1269.3" cy="305.1" r="2.3"/><circle cx="1316.4" cy="287.6" r="2.3"/><circle cx="1363.4" cy="302.2" r="2.3"/><circle cx="1410.4" cy="325.6" r="2.3"/><circle cx="1457.5" cy="668.5" r="2.3"/><circle cx="1504.5" cy="721.2" r="2.3"/><circle cx="1551.5" cy="746.4" r="2.3"/><circle cx="1598.6" cy="749.9" r="2.3"/><circle cx="1645.6" cy="752.8" r="2.3"/><circle cx="1692.6" cy="755.7" r="2.3"/><circle cx="1739.7" cy="761.6" r="2.3"/><circle cx="1786.7" cy="765.1" r="2.3"/><circle cx="1833.7" cy="766.3" r="2.3"/><circle cx="1880.8" cy="762.7" r="2.3"/></g></g>
<g opacity="1"><polyline points="93.5,323.3 140.5,299.9 187.6,288.2 234.6,302.8 281.6,296.9 328.7,347.8 375.7,317.4 422.7,294.0 469.8,299.9 516.8,305.7 563.8,296.9 610.9,305.7 657.9,299.9 704.9,330.9 752.0,353.1 799.0,330.9 846.0,329.1 893.1,317.4 940.1,311.6" stroke="rgb(171,210,93)" stroke-width="2.0"/><polyline points="940.1,311.6 987.1,305.7 1034.2,308.6 1081.2,299.9 1128.2,305.7 1175.3,302.8 1222.3,299.9 1269.3,305.7 1316.4,311.6 1363.4,299.9 1410.4,320.3" stroke="rgb(171,210,93)" stroke-width="1.65" opacity="0.85"/><polyline points="1410.4,320.3 1457.5,651.0 1504.5,689.6 1551.5,752.2 1598.6,753.4 1645.6,762.2 1692.6,763.3 1739.7,793.8 1786.7,780.3 1833.7,785.6 1880.8,781.5" stroke="rgb(171,210,93)" stroke-width="1.85" opacity="0.9"/>
<g fill="rgb(171,210,93)" stroke="none"><circle cx="93.5" cy="323.3" r="2.55"/><circle cx="140.5" cy="299.9" r="2.55"/><circle cx="187.6" cy="288.2" r="2.55"/><circle cx="234.6" cy="302.8" r="2.55"/><circle cx="281.6" cy="296.9" r="2.55"/><circle cx="328.7" cy="347.8" r="2.55"/><circle cx="375.7" cy="317.4" r="2.55"/><circle cx="422.7" cy="294.0" r="2.55"/><circle cx="469.8" cy="299.9" r="2.55"/><circle cx="516.8" cy="305.7" r="2.55"/><circle cx="563.8" cy="296.9" r="2.55"/><circle cx="610.9" cy="305.7" r="2.55"/><circle cx="657.9" cy="299.9" r="2.55"/><circle cx="704.9" cy="330.9" r="2.55"/><circle cx="752.0" cy="353.1" r="2.55"/><circle cx="799.0" cy="330.9" r="2.55"/><circle cx="846.0" cy="329.1" r="2.55"/><circle cx="893.1" cy="317.4" r="2.55"/><circle cx="940.1" cy="311.6" r="2.55"/><circle cx="987.1" cy="305.7" r="2.3"/><circle cx="1034.2" cy="308.6" r="2.3"/><circle cx="1081.2" cy="299.9" r="2.3"/><circle cx="1128.2" cy="305.7" r="2.3"/><circle cx="1175.3" cy="302.8" r="2.3"/><circle cx="1222.3" cy="299.9" r="2.3"/><circle cx="1269.3" cy="305.7" r="2.3"/><circle cx="1316.4" cy="311.6" r="2.3"/><circle cx="1363.4" cy="299.9" r="2.3"/><circle cx="1410.4" cy="320.3" r="2.3"/><circle cx="1457.5" cy="651.0" r="2.3"/><circle cx="1504.5" cy="689.6" r="2.3"/><circle cx="1551.5" cy="752.2" r="2.3"/><circle cx="1598.6" cy="753.4" r="2.3"/><circle cx="1645.6" cy="762.2" r="2.3"/><circle cx="1692.6" cy="763.3" r="2.3"/><circle cx="1739.7" cy="793.8" r="2.3"/><circle cx="1786.7" cy="780.3" r="2.3"/><circle cx="1833.7" cy="785.6" r="2.3"/><circle cx="1880.8" cy="781.5" r="2.3"/></g></g>
<g opacity="1"><polyline points="93.5,299.3 140.5,282.3 187.6,292.2 234.6,285.2 281.6,298.1 328.7,287.0 375.7,287.6 422.7,312.7 469.8,285.2 516.8,297.5 563.8,287.0 610.9,289.9 657.9,282.3 704.9,294.0 752.0,287.6 799.0,295.2 846.0,282.3 893.1,290.5 940.1,295.2" stroke="rgb(184,216,77)" stroke-width="2.0"/><polyline points="940.1,295.2 987.1,312.1 1034.2,287.0 1081.2,285.8 1128.2,285.2 1175.3,295.8 1222.3,294.6 1269.3,296.3 1316.4,287.6 1363.4,292.2 1410.4,313.3" stroke="rgb(184,216,77)" stroke-width="1.65" opacity="0.85"/><polyline points="1410.4,313.3 1457.5,779.7 1504.5,809.0 1551.5,814.8 1598.6,819.5 1645.6,820.7 1692.6,818.9 1739.7,821.9 1786.7,823.0 1833.7,823.6 1880.8,824.2" stroke="rgb(184,216,77)" stroke-width="1.85" opacity="0.9"/>
<g fill="rgb(184,216,77)" stroke="none"><circle cx="93.5" cy="299.3" r="2.55"/><circle cx="140.5" cy="282.3" r="2.55"/><circle cx="187.6" cy="292.2" r="2.55"/><circle cx="234.6" cy="285.2" r="2.55"/><circle cx="281.6" cy="298.1" r="2.55"/><circle cx="328.7" cy="287.0" r="2.55"/><circle cx="375.7" cy="287.6" r="2.55"/><circle cx="422.7" cy="312.7" r="2.55"/><circle cx="469.8" cy="285.2" r="2.55"/><circle cx="516.8" cy="297.5" r="2.55"/><circle cx="563.8" cy="287.0" r="2.55"/><circle cx="610.9" cy="289.9" r="2.55"/><circle cx="657.9" cy="282.3" r="2.55"/><circle cx="704.9" cy="294.0" r="2.55"/><circle cx="752.0" cy="287.6" r="2.55"/><circle cx="799.0" cy="295.2" r="2.55"/><circle cx="846.0" cy="282.3" r="2.55"/><circle cx="893.1" cy="290.5" r="2.55"/><circle cx="940.1" cy="295.2" r="2.55"/><circle cx="987.1" cy="312.1" r="2.3"/><circle cx="1034.2" cy="287.0" r="2.3"/><circle cx="1081.2" cy="285.8" r="2.3"/><circle cx="1128.2" cy="285.2" r="2.3"/><circle cx="1175.3" cy="295.8" r="2.3"/><circle cx="1222.3" cy="294.6" r="2.3"/><circle cx="1269.3" cy="296.3" r="2.3"/><circle cx="1316.4" cy="287.6" r="2.3"/><circle cx="1363.4" cy="292.2" r="2.3"/><circle cx="1410.4" cy="313.3" r="2.3"/><circle cx="1457.5" cy="779.7" r="2.3"/><circle cx="1504.5" cy="809.0" r="2.3"/><circle cx="1551.5" cy="814.8" r="2.3"/><circle cx="1598.6" cy="819.5" r="2.3"/><circle cx="1645.6" cy="820.7" r="2.3"/><circle cx="1692.6" cy="818.9" r="2.3"/><circle cx="1739.7" cy="821.9" r="2.3"/><circle cx="1786.7" cy="823.0" r="2.3"/><circle cx="1833.7" cy="823.6" r="2.3"/><circle cx="1880.8" cy="824.2" r="2.3"/></g></g>
<g opacity="1"><polyline points="93.5,285.2 140.5,285.2 187.6,282.3 234.6,287.0 281.6,282.3 328.7,294.6 375.7,298.1 422.7,293.4 469.8,310.4 516.8,285.2 563.8,302.8 610.9,297.5 657.9,285.2 704.9,285.2 752.0,285.2 799.0,286.4 846.0,300.4 893.1,282.3 940.1,295.8" stroke="rgb(209,216,66)" stroke-width="2.0"/><polyline points="940.1,295.8 987.1,285.2 1034.2,291.7 1081.2,296.9 1128.2,285.2 1175.3,294.0 1222.3,299.9 1269.3,307.5 1316.4,294.0 1363.4,291.1 1410.4,319.8" stroke="rgb(209,216,66)" stroke-width="1.65" opacity="0.85"/><polyline points="1410.4,319.8 1457.5,565.0 1504.5,806.1 1551.5,814.8 1598.6,818.9 1645.6,820.7 1692.6,821.9 1739.7,823.6 1786.7,824.2 1833.7,824.8 1880.8,825.4" stroke="rgb(209,216,66)" stroke-width="1.85" opacity="0.9"/>
<g fill="rgb(209,216,66)" stroke="none"><circle cx="93.5" cy="285.2" r="2.55"/><circle cx="140.5" cy="285.2" r="2.55"/><circle cx="187.6" cy="282.3" r="2.55"/><circle cx="234.6" cy="287.0" r="2.55"/><circle cx="281.6" cy="282.3" r="2.55"/><circle cx="328.7" cy="294.6" r="2.55"/><circle cx="375.7" cy="298.1" r="2.55"/><circle cx="422.7" cy="293.4" r="2.55"/><circle cx="469.8" cy="310.4" r="2.55"/><circle cx="516.8" cy="285.2" r="2.55"/><circle cx="563.8" cy="302.8" r="2.55"/><circle cx="610.9" cy="297.5" r="2.55"/><circle cx="657.9" cy="285.2" r="2.55"/><circle cx="704.9" cy="285.2" r="2.55"/><circle cx="752.0" cy="285.2" r="2.55"/><circle cx="799.0" cy="286.4" r="2.55"/><circle cx="846.0" cy="300.4" r="2.55"/><circle cx="893.1" cy="282.3" r="2.55"/><circle cx="940.1" cy="295.8" r="2.55"/><circle cx="987.1" cy="285.2" r="2.3"/><circle cx="1034.2" cy="291.7" r="2.3"/><circle cx="1081.2" cy="296.9" r="2.3"/><circle cx="1128.2" cy="285.2" r="2.3"/><circle cx="1175.3" cy="294.0" r="2.3"/><circle cx="1222.3" cy="299.9" r="2.3"/><circle cx="1269.3" cy="307.5" r="2.3"/><circle cx="1316.4" cy="294.0" r="2.3"/><circle cx="1363.4" cy="291.1" r="2.3"/><circle cx="1410.4" cy="319.8" r="2.3"/><circle cx="1457.5" cy="565.0" r="2.3"/><circle cx="1504.5" cy="806.1" r="2.3"/><circle cx="1551.5" cy="814.8" r="2.3"/><circle cx="1598.6" cy="818.9" r="2.3"/><circle cx="1645.6" cy="820.7" r="2.3"/><circle cx="1692.6" cy="821.9" r="2.3"/><circle cx="1739.7" cy="823.6" r="2.3"/><circle cx="1786.7" cy="824.2" r="2.3"/><circle cx="1833.7" cy="824.8" r="2.3"/><circle cx="1880.8" cy="825.4" r="2.3"/></g></g>
<g opacity="1"><polyline points="93.5,312.1 140.5,295.8 187.6,295.8 234.6,309.8 281.6,293.4 328.7,311.6 375.7,299.3 422.7,285.2 469.8,290.5 516.8,316.8 563.8,289.3 610.9,309.8 657.9,285.2 704.9,306.9 752.0,311.0 799.0,316.8 846.0,312.7 893.1,313.3 940.1,282.3" stroke="rgb(234,217,56)" stroke-width="2.0"/><polyline points="940.1,282.3 987.1,308.6 1034.2,309.2 1081.2,313.3 1128.2,300.4 1175.3,315.1 1222.3,310.4 1269.3,309.2 1316.4,305.1 1363.4,307.5 1410.4,313.9" stroke="rgb(234,217,56)" stroke-width="1.65" opacity="0.85"/><polyline points="1410.4,313.9 1457.5,457.3 1504.5,481.9 1551.5,498.8 1598.6,498.8 1645.6,495.9 1692.6,504.1 1739.7,559.7 1786.7,721.2 1833.7,787.9 1880.8,788.5" stroke="rgb(234,217,56)" stroke-width="1.85" opacity="0.9"/>
<g fill="rgb(234,217,56)" stroke="none"><circle cx="93.5" cy="312.1" r="2.55"/><circle cx="140.5" cy="295.8" r="2.55"/><circle cx="187.6" cy="295.8" r="2.55"/><circle cx="234.6" cy="309.8" r="2.55"/><circle cx="281.6" cy="293.4" r="2.55"/><circle cx="328.7" cy="311.6" r="2.55"/><circle cx="375.7" cy="299.3" r="2.55"/><circle cx="422.7" cy="285.2" r="2.55"/><circle cx="469.8" cy="290.5" r="2.55"/><circle cx="516.8" cy="316.8" r="2.55"/><circle cx="563.8" cy="289.3" r="2.55"/><circle cx="610.9" cy="309.8" r="2.55"/><circle cx="657.9" cy="285.2" r="2.55"/><circle cx="704.9" cy="306.9" r="2.55"/><circle cx="752.0" cy="311.0" r="2.55"/><circle cx="799.0" cy="316.8" r="2.55"/><circle cx="846.0" cy="312.7" r="2.55"/><circle cx="893.1" cy="313.3" r="2.55"/><circle cx="940.1" cy="282.3" r="2.55"/><circle cx="987.1" cy="308.6" r="2.3"/><circle cx="1034.2" cy="309.2" r="2.3"/><circle cx="1081.2" cy="313.3" r="2.3"/><circle cx="1128.2" cy="300.4" r="2.3"/><circle cx="1175.3" cy="315.1" r="2.3"/><circle cx="1222.3" cy="310.4" r="2.3"/><circle cx="1269.3" cy="309.2" r="2.3"/><circle cx="1316.4" cy="305.1" r="2.3"/><circle cx="1363.4" cy="307.5" r="2.3"/><circle cx="1410.4" cy="313.9" r="2.3"/><circle cx="1457.5" cy="457.3" r="2.3"/><circle cx="1504.5" cy="481.9" r="2.3"/><circle cx="1551.5" cy="498.8" r="2.3"/><circle cx="1598.6" cy="498.8" r="2.3"/><circle cx="1645.6" cy="495.9" r="2.3"/><circle cx="1692.6" cy="504.1" r="2.3"/><circle cx="1739.7" cy="559.7" r="2.3"/><circle cx="1786.7" cy="721.2" r="2.3"/><circle cx="1833.7" cy="787.9" r="2.3"/><circle cx="1880.8" cy="788.5" r="2.3"/></g></g>
<g opacity="1"><polyline points="93.5,317.4 140.5,321.5 187.6,335.0 234.6,311.0 281.6,305.7 328.7,324.4 375.7,311.6 422.7,320.9 469.8,343.7 516.8,308.6 563.8,323.8 610.9,302.8 657.9,353.1 704.9,330.3 752.0,380.0 799.0,356.0 846.0,333.8 893.1,353.1 940.1,351.9" stroke="rgb(254,216,51)" stroke-width="2.0"/><polyline points="940.1,351.9 987.1,317.4 1034.2,311.6 1081.2,320.3 1128.2,308.6 1175.3,317.4 1222.3,311.6 1269.3,317.4 1316.4,308.6 1363.4,320.3 1410.4,329.1" stroke="rgb(254,216,51)" stroke-width="1.65" opacity="0.85"/><polyline points="1410.4,329.1 1457.5,750.5 1504.5,788.5 1551.5,803.1 1598.6,809.0 1645.6,814.8 1692.6,817.8 1739.7,820.7 1786.7,817.8 1833.7,819.5 1880.8,817.2" stroke="rgb(254,216,51)" stroke-width="1.85" opacity="0.9"/>
<g fill="rgb(254,216,51)" stroke="none"><circle cx="93.5" cy="317.4" r="2.55"/><circle cx="140.5" cy="321.5" r="2.55"/><circle cx="187.6" cy="335.0" r="2.55"/><circle cx="234.6" cy="311.0" r="2.55"/><circle cx="281.6" cy="305.7" r="2.55"/><circle cx="328.7" cy="324.4" r="2.55"/><circle cx="375.7" cy="311.6" r="2.55"/><circle cx="422.7" cy="320.9" r="2.55"/><circle cx="469.8" cy="343.7" r="2.55"/><circle cx="516.8" cy="308.6" r="2.55"/><circle cx="563.8" cy="323.8" r="2.55"/><circle cx="610.9" cy="302.8" r="2.55"/><circle cx="657.9" cy="353.1" r="2.55"/><circle cx="704.9" cy="330.3" r="2.55"/><circle cx="752.0" cy="380.0" r="2.55"/><circle cx="799.0" cy="356.0" r="2.55"/><circle cx="846.0" cy="333.8" r="2.55"/><circle cx="893.1" cy="353.1" r="2.55"/><circle cx="940.1" cy="351.9" r="2.55"/><circle cx="987.1" cy="317.4" r="2.3"/><circle cx="1034.2" cy="311.6" r="2.3"/><circle cx="1081.2" cy="320.3" r="2.3"/><circle cx="1128.2" cy="308.6" r="2.3"/><circle cx="1175.3" cy="317.4" r="2.3"/><circle cx="1222.3" cy="311.6" r="2.3"/><circle cx="1269.3" cy="317.4" r="2.3"/><circle cx="1316.4" cy="308.6" r="2.3"/><circle cx="1363.4" cy="320.3" r="2.3"/><circle cx="1410.4" cy="329.1" r="2.3"/><circle cx="1457.5" cy="750.5" r="2.3"/><circle cx="1504.5" cy="788.5" r="2.3"/><circle cx="1551.5" cy="803.1" r="2.3"/><circle cx="1598.6" cy="809.0" r="2.3"/><circle cx="1645.6" cy="814.8" r="2.3"/><circle cx="1692.6" cy="817.8" r="2.3"/><circle cx="1739.7" cy="820.7" r="2.3"/><circle cx="1786.7" cy="817.8" r="2.3"/><circle cx="1833.7" cy="819.5" r="2.3"/><circle cx="1880.8" cy="817.2" r="2.3"/></g></g>
<g opacity="1"><polyline points="93.5,318.6 140.5,321.5 187.6,385.9 234.6,311.0 281.6,308.6 328.7,323.3 375.7,350.2 422.7,299.9 469.8,359.0 516.8,316.2 563.8,323.3 610.9,299.9 657.9,282.3 704.9,305.7 752.0,312.1 799.0,356.0 846.0,340.8 893.1,326.8 940.1,333.8" stroke="rgb(247,210,79)" stroke-width="2.0"/><polyline points="940.1,333.8 987.1,305.7 1034.2,317.4 1081.2,302.8 1128.2,311.6 1175.3,305.7 1222.3,314.5 1269.3,308.6 1316.4,337.9 1363.4,337.9 1410.4,339.6" stroke="rgb(247,210,79)" stroke-width="1.65" opacity="0.85"/><polyline points="1410.4,339.6 1457.5,791.4 1504.5,831.2 1551.5,843.5 1598.6,834.7 1645.6,840.0 1692.6,834.1 1739.7,841.2 1786.7,838.8 1833.7,845.8 1880.8,844.7" stroke="rgb(247,210,79)" stroke-width="1.85" opacity="0.9"/>
<g fill="rgb(247,210,79)" stroke="none"><circle cx="93.5" cy="318.6" r="2.55"/><circle cx="140.5" cy="321.5" r="2.55"/><circle cx="187.6" cy="385.9" r="2.55"/><circle cx="234.6" cy="311.0" r="2.55"/><circle cx="281.6" cy="308.6" r="2.55"/><circle cx="328.7" cy="323.3" r="2.55"/><circle cx="375.7" cy="350.2" r="2.55"/><circle cx="422.7" cy="299.9" r="2.55"/><circle cx="469.8" cy="359.0" r="2.55"/><circle cx="516.8" cy="316.2" r="2.55"/><circle cx="563.8" cy="323.3" r="2.55"/><circle cx="610.9" cy="299.9" r="2.55"/><circle cx="657.9" cy="282.3" r="2.55"/><circle cx="704.9" cy="305.7" r="2.55"/><circle cx="752.0" cy="312.1" r="2.55"/><circle cx="799.0" cy="356.0" r="2.55"/><circle cx="846.0" cy="340.8" r="2.55"/><circle cx="893.1" cy="326.8" r="2.55"/><circle cx="940.1" cy="333.8" r="2.55"/><circle cx="987.1" cy="305.7" r="2.3"/><circle cx="1034.2" cy="317.4" r="2.3"/><circle cx="1081.2" cy="302.8" r="2.3"/><circle cx="1128.2" cy="311.6" r="2.3"/><circle cx="1175.3" cy="305.7" r="2.3"/><circle cx="1222.3" cy="314.5" r="2.3"/><circle cx="1269.3" cy="308.6" r="2.3"/><circle cx="1316.4" cy="337.9" r="2.3"/><circle cx="1363.4" cy="337.9" r="2.3"/><circle cx="1410.4" cy="339.6" r="2.3"/><circle cx="1457.5" cy="791.4" r="2.3"/><circle cx="1504.5" cy="831.2" r="2.3"/><circle cx="1551.5" cy="843.5" r="2.3"/><circle cx="1598.6" cy="834.7" r="2.3"/><circle cx="1645.6" cy="840.0" r="2.3"/><circle cx="1692.6" cy="834.1" r="2.3"/><circle cx="1739.7" cy="841.2" r="2.3"/><circle cx="1786.7" cy="838.8" r="2.3"/><circle cx="1833.7" cy="845.8" r="2.3"/><circle cx="1880.8" cy="844.7" r="2.3"/></g></g>
<g opacity="1"><polyline points="93.5,304.0 140.5,330.9 187.6,309.2 234.6,301.0 281.6,300.4 328.7,301.0 375.7,310.4 422.7,286.4 469.8,288.2 516.8,297.5 563.8,292.2 610.9,290.5 657.9,309.8 704.9,304.5 752.0,294.0 799.0,299.3 846.0,290.5 893.1,299.3 940.1,303.4" stroke="rgb(239,204,108)" stroke-width="2.0"/><polyline points="940.1,303.4 987.1,296.3 1034.2,315.7 1081.2,309.2 1128.2,302.2 1175.3,312.7 1222.3,313.3 1269.3,315.1 1316.4,294.0 1363.4,314.5 1410.4,311.6" stroke="rgb(239,204,108)" stroke-width="1.65" opacity="0.85"/><polyline points="1410.4,311.6 1457.5,732.9 1504.5,794.4 1551.5,803.1 1598.6,810.2 1645.6,816.0 1692.6,821.9 1739.7,823.6 1786.7,819.5 1833.7,821.9 1880.8,818.9" stroke="rgb(239,204,108)" stroke-width="1.85" opacity="0.9"/>
<g fill="rgb(239,204,108)" stroke="none"><circle cx="93.5" cy="304.0" r="2.55"/><circle cx="140.5" cy="330.9" r="2.55"/><circle cx="187.6" cy="309.2" r="2.55"/><circle cx="234.6" cy="301.0" r="2.55"/><circle cx="281.6" cy="300.4" r="2.55"/><circle cx="328.7" cy="301.0" r="2.55"/><circle cx="375.7" cy="310.4" r="2.55"/><circle cx="422.7" cy="286.4" r="2.55"/><circle cx="469.8" cy="288.2" r="2.55"/><circle cx="516.8" cy="297.5" r="2.55"/><circle cx="563.8" cy="292.2" r="2.55"/><circle cx="610.9" cy="290.5" r="2.55"/><circle cx="657.9" cy="309.8" r="2.55"/><circle cx="704.9" cy="304.5" r="2.55"/><circle cx="752.0" cy="294.0" r="2.55"/><circle cx="799.0" cy="299.3" r="2.55"/><circle cx="846.0" cy="290.5" r="2.55"/><circle cx="893.1" cy="299.3" r="2.55"/><circle cx="940.1" cy="303.4" r="2.55"/><circle cx="987.1" cy="296.3" r="2.3"/><circle cx="1034.2" cy="315.7" r="2.3"/><circle cx="1081.2" cy="309.2" r="2.3"/><circle cx="1128.2" cy="302.2" r="2.3"/><circle cx="1175.3" cy="312.7" r="2.3"/><circle cx="1222.3" cy="313.3" r="2.3"/><circle cx="1269.3" cy="315.1" r="2.3"/><circle cx="1316.4" cy="294.0" r="2.3"/><circle cx="1363.4" cy="314.5" r="2.3"/><circle cx="1410.4" cy="311.6" r="2.3"/><circle cx="1457.5" cy="732.9" r="2.3"/><circle cx="1504.5" cy="794.4" r="2.3"/><circle cx="1551.5" cy="803.1" r="2.3"/><circle cx="1598.6" cy="810.2" r="2.3"/><circle cx="1645.6" cy="816.0" r="2.3"/><circle cx="1692.6" cy="821.9" r="2.3"/><circle cx="1739.7" cy="823.6" r="2.3"/><circle cx="1786.7" cy="819.5" r="2.3"/><circle cx="1833.7" cy="821.9" r="2.3"/><circle cx="1880.8" cy="818.9" r="2.3"/></g></g>
<g opacity="1"><polyline points="93.5,293.4 140.5,288.2 187.6,289.3 234.6,305.7 281.6,305.1 328.7,291.7 375.7,289.3 422.7,298.1 469.8,304.5 516.8,294.6 563.8,292.2 610.9,295.2 657.9,296.9 704.9,306.3 752.0,300.4 799.0,287.6 846.0,292.2 893.1,316.8 940.1,295.2" stroke="rgb(232,199,136)" stroke-width="2.0"/><polyline points="940.1,295.2 987.1,282.3 1034.2,308.0 1081.2,299.3 1128.2,305.7 1175.3,325.0 1222.3,301.0 1269.3,296.3 1316.4,298.7 1363.4,303.4 1410.4,320.3" stroke="rgb(232,199,136)" stroke-width="1.65" opacity="0.85"/><polyline points="1410.4,320.3 1457.5,773.9 1504.5,819.5 1551.5,821.9 1598.6,827.7 1645.6,834.1 1692.6,843.5 1739.7,844.7 1786.7,838.8 1833.7,842.3 1880.8,845.3" stroke="rgb(232,199,136)" stroke-width="1.85" opacity="0.9"/>
<g fill="rgb(232,199,136)" stroke="none"><circle cx="93.5" cy="293.4" r="2.55"/><circle cx="140.5" cy="288.2" r="2.55"/><circle cx="187.6" cy="289.3" r="2.55"/><circle cx="234.6" cy="305.7" r="2.55"/><circle cx="281.6" cy="305.1" r="2.55"/><circle cx="328.7" cy="291.7" r="2.55"/><circle cx="375.7" cy="289.3" r="2.55"/><circle cx="422.7" cy="298.1" r="2.55"/><circle cx="469.8" cy="304.5" r="2.55"/><circle cx="516.8" cy="294.6" r="2.55"/><circle cx="563.8" cy="292.2" r="2.55"/><circle cx="610.9" cy="295.2" r="2.55"/><circle cx="657.9" cy="296.9" r="2.55"/><circle cx="704.9" cy="306.3" r="2.55"/><circle cx="752.0" cy="300.4" r="2.55"/><circle cx="799.0" cy="287.6" r="2.55"/><circle cx="846.0" cy="292.2" r="2.55"/><circle cx="893.1" cy="316.8" r="2.55"/><circle cx="940.1" cy="295.2" r="2.55"/><circle cx="987.1" cy="282.3" r="2.3"/><circle cx="1034.2" cy="308.0" r="2.3"/><circle cx="1081.2" cy="299.3" r="2.3"/><circle cx="1128.2" cy="305.7" r="2.3"/><circle cx="1175.3" cy="325.0" r="2.3"/><circle cx="1222.3" cy="301.0" r="2.3"/><circle cx="1269.3" cy="296.3" r="2.3"/><circle cx="1316.4" cy="298.7" r="2.3"/><circle cx="1363.4" cy="303.4" r="2.3"/><circle cx="1410.4" cy="320.3" r="2.3"/><circle cx="1457.5" cy="773.9" r="2.3"/><circle cx="1504.5" cy="819.5" r="2.3"/><circle cx="1551.5" cy="821.9" r="2.3"/><circle cx="1598.6" cy="827.7" r="2.3"/><circle cx="1645.6" cy="834.1" r="2.3"/><circle cx="1692.6" cy="843.5" r="2.3"/><circle cx="1739.7" cy="844.7" r="2.3"/><circle cx="1786.7" cy="838.8" r="2.3"/><circle cx="1833.7" cy="842.3" r="2.3"/><circle cx="1880.8" cy="845.3" r="2.3"/></g></g>
<g opacity="1"><polyline points="93.5,298.1 140.5,294.6 187.6,295.8 234.6,298.1 281.6,294.6 328.7,282.3 375.7,294.6 422.7,298.7 469.8,293.4 516.8,297.5 563.8,290.5 610.9,301.0 657.9,295.8 704.9,298.1 752.0,300.4 799.0,292.8 846.0,298.1 893.1,291.7 940.1,293.4" stroke="rgb(221,193,153)" stroke-width="2.0"/><polyline points="940.1,293.4 987.1,290.5 1034.2,298.1 1081.2,292.2 1128.2,296.9 1175.3,293.4 1222.3,289.3 1269.3,292.8 1316.4,292.8 1363.4,298.7 1410.4,324.4" stroke="rgb(221,193,153)" stroke-width="1.65" opacity="0.85"/><polyline points="1410.4,324.4 1457.5,768.0 1504.5,791.4 1551.5,805.5 1598.6,806.6 1645.6,807.2 1692.6,800.8 1739.7,811.3 1786.7,811.3 1833.7,811.3 1880.8,806.6" stroke="rgb(221,193,153)" stroke-width="1.85" opacity="0.9"/>
<g fill="rgb(221,193,153)" stroke="none"><circle cx="93.5" cy="298.1" r="2.55"/><circle cx="140.5" cy="294.6" r="2.55"/><circle cx="187.6" cy="295.8" r="2.55"/><circle cx="234.6" cy="298.1" r="2.55"/><circle cx="281.6" cy="294.6" r="2.55"/><circle cx="328.7" cy="282.3" r="2.55"/><circle cx="375.7" cy="294.6" r="2.55"/><circle cx="422.7" cy="298.7" r="2.55"/><circle cx="469.8" cy="293.4" r="2.55"/><circle cx="516.8" cy="297.5" r="2.55"/><circle cx="563.8" cy="290.5" r="2.55"/><circle cx="610.9" cy="301.0" r="2.55"/><circle cx="657.9" cy="295.8" r="2.55"/><circle cx="704.9" cy="298.1" r="2.55"/><circle cx="752.0" cy="300.4" r="2.55"/><circle cx="799.0" cy="292.8" r="2.55"/><circle cx="846.0" cy="298.1" r="2.55"/><circle cx="893.1" cy="291.7" r="2.55"/><circle cx="940.1" cy="293.4" r="2.55"/><circle cx="987.1" cy="290.5" r="2.3"/><circle cx="1034.2" cy="298.1" r="2.3"/><circle cx="1081.2" cy="292.2" r="2.3"/><circle cx="1128.2" cy="296.9" r="2.3"/><circle cx="1175.3" cy="293.4" r="2.3"/><circle cx="1222.3" cy="289.3" r="2.3"/><circle cx="1269.3" cy="292.8" r="2.3"/><circle cx="1316.4" cy="292.8" r="2.3"/><circle cx="1363.4" cy="298.7" r="2.3"/><circle cx="1410.4" cy="324.4" r="2.3"/><circle cx="1457.5" cy="768.0" r="2.3"/><circle cx="1504.5" cy="791.4" r="2.3"/><circle cx="1551.5" cy="805.5" r="2.3"/><circle cx="1598.6" cy="806.6" r="2.3"/><circle cx="1645.6" cy="807.2" r="2.3"/><circle cx="1692.6" cy="800.8" r="2.3"/><circle cx="1739.7" cy="811.3" r="2.3"/><circle cx="1786.7" cy="811.3" r="2.3"/><circle cx="1833.7" cy="811.3" r="2.3"/><circle cx="1880.8" cy="806.6" r="2.3"/></g></g>
<g opacity="1"><polyline points="93.5,298.1 140.5,303.4 187.6,299.9 234.6,302.8 281.6,298.7 328.7,302.8 375.7,298.1 422.7,302.8 469.8,298.7 516.8,299.9 563.8,302.8 610.9,301.6 657.9,301.6 704.9,301.0 752.0,300.4 799.0,303.4 846.0,298.7 893.1,300.4 940.1,302.8" stroke="rgb(207,189,162)" stroke-width="2.0"/><polyline points="940.1,302.8 987.1,303.4 1034.2,297.5 1081.2,300.4 1128.2,300.4 1175.3,301.6 1222.3,302.2 1269.3,302.8 1316.4,298.7 1363.4,299.9 1410.4,310.4" stroke="rgb(207,189,162)" stroke-width="1.65" opacity="0.85"/><polyline points="1410.4,310.4 1457.5,653.9 1504.5,711.8 1551.5,730.0 1598.6,735.2 1645.6,738.2 1692.6,739.9 1739.7,747.5 1786.7,752.8 1833.7,753.4 1880.8,752.2" stroke="rgb(207,189,162)" stroke-width="1.85" opacity="0.9"/>
<g fill="rgb(207,189,162)" stroke="none"><circle cx="93.5" cy="298.1" r="2.55"/><circle cx="140.5" cy="303.4" r="2.55"/><circle cx="187.6" cy="299.9" r="2.55"/><circle cx="234.6" cy="302.8" r="2.55"/><circle cx="281.6" cy="298.7" r="2.55"/><circle cx="328.7" cy="302.8" r="2.55"/><circle cx="375.7" cy="298.1" r="2.55"/><circle cx="422.7" cy="302.8" r="2.55"/><circle cx="469.8" cy="298.7" r="2.55"/><circle cx="516.8" cy="299.9" r="2.55"/><circle cx="563.8" cy="302.8" r="2.55"/><circle cx="610.9" cy="301.6" r="2.55"/><circle cx="657.9" cy="301.6" r="2.55"/><circle cx="704.9" cy="301.0" r="2.55"/><circle cx="752.0" cy="300.4" r="2.55"/><circle cx="799.0" cy="303.4" r="2.55"/><circle cx="846.0" cy="298.7" r="2.55"/><circle cx="893.1" cy="300.4" r="2.55"/><circle cx="940.1" cy="302.8" r="2.55"/><circle cx="987.1" cy="303.4" r="2.3"/><circle cx="1034.2" cy="297.5" r="2.3"/><circle cx="1081.2" cy="300.4" r="2.3"/><circle cx="1128.2" cy="300.4" r="2.3"/><circle cx="1175.3" cy="301.6" r="2.3"/><circle cx="1222.3" cy="302.2" r="2.3"/><circle cx="1269.3" cy="302.8" r="2.3"/><circle cx="1316.4" cy="298.7" r="2.3"/><circle cx="1363.4" cy="299.9" r="2.3"/><circle cx="1410.4" cy="310.4" r="2.3"/><circle cx="1457.5" cy="653.9" r="2.3"/><circle cx="1504.5" cy="711.8" r="2.3"/><circle cx="1551.5" cy="730.0" r="2.3"/><circle cx="1598.6" cy="735.2" r="2.3"/><circle cx="1645.6" cy="738.2" r="2.3"/><circle cx="1692.6" cy="739.9" r="2.3"/><circle cx="1739.7" cy="747.5" r="2.3"/><circle cx="1786.7" cy="752.8" r="2.3"/><circle cx="1833.7" cy="753.4" r="2.3"/><circle cx="1880.8" cy="752.2" r="2.3"/></g></g>
<g opacity="1"><polyline points="93.5,327.9 140.5,324.4 187.6,318.6 234.6,320.3 281.6,335.0 328.7,337.3 375.7,340.8 422.7,313.3 469.8,325.0 516.8,327.9 563.8,317.4 610.9,311.6 657.9,320.3 704.9,317.4 752.0,323.3 799.0,317.4 846.0,329.1 893.1,320.3 940.1,326.2" stroke="rgb(193,184,170)" stroke-width="2.0"/><polyline points="940.1,326.2 987.1,337.9 1034.2,323.3 1081.2,317.4 1128.2,320.3 1175.3,317.4 1222.3,323.3 1269.3,314.5 1316.4,323.3 1363.4,314.5 1410.4,326.2" stroke="rgb(193,184,170)" stroke-width="1.65" opacity="0.85"/><polyline points="1410.4,326.2 1457.5,762.2 1504.5,782.6 1551.5,785.6 1598.6,791.4 1645.6,791.4 1692.6,800.2 1739.7,794.9 1786.7,797.9 1833.7,785.6 1880.8,794.9" stroke="rgb(193,184,170)" stroke-width="1.85" opacity="0.9"/>
<g fill="rgb(193,184,170)" stroke="none"><circle cx="93.5" cy="327.9" r="2.55"/><circle cx="140.5" cy="324.4" r="2.55"/><circle cx="187.6" cy="318.6" r="2.55"/><circle cx="234.6" cy="320.3" r="2.55"/><circle cx="281.6" cy="335.0" r="2.55"/><circle cx="328.7" cy="337.3" r="2.55"/><circle cx="375.7" cy="340.8" r="2.55"/><circle cx="422.7" cy="313.3" r="2.55"/><circle cx="469.8" cy="325.0" r="2.55"/><circle cx="516.8" cy="327.9" r="2.55"/><circle cx="563.8" cy="317.4" r="2.55"/><circle cx="610.9" cy="311.6" r="2.55"/><circle cx="657.9" cy="320.3" r="2.55"/><circle cx="704.9" cy="317.4" r="2.55"/><circle cx="752.0" cy="323.3" r="2.55"/><circle cx="799.0" cy="317.4" r="2.55"/><circle cx="846.0" cy="329.1" r="2.55"/><circle cx="893.1" cy="320.3" r="2.55"/><circle cx="940.1" cy="326.2" r="2.55"/><circle cx="987.1" cy="337.9" r="2.3"/><circle cx="1034.2" cy="323.3" r="2.3"/><circle cx="1081.2" cy="317.4" r="2.3"/><circle cx="1128.2" cy="320.3" r="2.3"/><circle cx="1175.3" cy="317.4" r="2.3"/><circle cx="1222.3" cy="323.3" r="2.3"/><circle cx="1269.3" cy="314.5" r="2.3"/><circle cx="1316.4" cy="323.3" r="2.3"/><circle cx="1363.4" cy="314.5" r="2.3"/><circle cx="1410.4" cy="326.2" r="2.3"/><circle cx="1457.5" cy="762.2" r="2.3"/><circle cx="1504.5" cy="782.6" r="2.3"/><circle cx="1551.5" cy="785.6" r="2.3"/><circle cx="1598.6" cy="791.4" r="2.3"/><circle cx="1645.6" cy="791.4" r="2.3"/><circle cx="1692.6" cy="800.2" r="2.3"/><circle cx="1739.7" cy="794.9" r="2.3"/><circle cx="1786.7" cy="797.9" r="2.3"/><circle cx="1833.7" cy="785.6" r="2.3"/><circle cx="1880.8" cy="794.9" r="2.3"/></g></g>
<g opacity="1"><polyline points="93.5,308.6 140.5,363.1 187.6,433.3 234.6,424.5 281.6,398.8 328.7,384.7 375.7,380.0 422.7,379.4 469.8,365.4 516.8,338.5 563.8,335.0 610.9,345.5 657.9,354.9 704.9,355.4 752.0,352.5 799.0,343.2 846.0,340.2 893.1,337.9 940.1,324.4" stroke="rgb(179,179,179)" stroke-width="2.0"/><polyline points="940.1,324.4 987.1,323.3 1034.2,317.4 1081.2,320.3 1128.2,317.4 1175.3,323.3 1222.3,320.3 1269.3,329.1 1316.4,323.3 1363.4,311.6 1410.4,323.3" stroke="rgb(179,179,179)" stroke-width="1.65" opacity="0.85"/><polyline points="1410.4,323.3 1457.5,662.7 1504.5,711.8 1551.5,755.7 1598.6,767.4 1645.6,770.9 1692.6,775.6 1739.7,782.6 1786.7,783.2 1833.7,785.6 1880.8,782.6" stroke="rgb(179,179,179)" stroke-width="1.85" opacity="0.9"/>
<g fill="rgb(179,179,179)" stroke="none"><circle cx="93.5" cy="308.6" r="2.55"/><circle cx="140.5" cy="363.1" r="2.55"/><circle cx="187.6" cy="433.3" r="2.55"/><circle cx="234.6" cy="424.5" r="2.55"/><circle cx="281.6" cy="398.8" r="2.55"/><circle cx="328.7" cy="384.7" r="2.55"/><circle cx="375.7" cy="380.0" r="2.55"/><circle cx="422.7" cy="379.4" r="2.55"/><circle cx="469.8" cy="365.4" r="2.55"/><circle cx="516.8" cy="338.5" r="2.55"/><circle cx="563.8" cy="335.0" r="2.55"/><circle cx="610.9" cy="345.5" r="2.55"/><circle cx="657.9" cy="354.9" r="2.55"/><circle cx="704.9" cy="355.4" r="2.55"/><circle cx="752.0" cy="352.5" r="2.55"/><circle cx="799.0" cy="343.2" r="2.55"/><circle cx="846.0" cy="340.2" r="2.55"/><circle cx="893.1" cy="337.9" r="2.55"/><circle cx="940.1" cy="324.4" r="2.55"/><circle cx="987.1" cy="323.3" r="2.3"/><circle cx="1034.2" cy="317.4" r="2.3"/><circle cx="1081.2" cy="320.3" r="2.3"/><circle cx="1128.2" cy="317.4" r="2.3"/><circle cx="1175.3" cy="323.3" r="2.3"/><circle cx="1222.3" cy="320.3" r="2.3"/><circle cx="1269.3" cy="329.1" r="2.3"/><circle cx="1316.4" cy="323.3" r="2.3"/><circle cx="1363.4" cy="311.6" r="2.3"/><circle cx="1410.4" cy="323.3" r="2.3"/><circle cx="1457.5" cy="662.7" r="2.3"/><circle cx="1504.5" cy="711.8" r="2.3"/><circle cx="1551.5" cy="755.7" r="2.3"/><circle cx="1598.6" cy="767.4" r="2.3"/><circle cx="1645.6" cy="770.9" r="2.3"/><circle cx="1692.6" cy="775.6" r="2.3"/><circle cx="1739.7" cy="782.6" r="2.3"/><circle cx="1786.7" cy="783.2" r="2.3"/><circle cx="1833.7" cy="785.6" r="2.3"/><circle cx="1880.8" cy="782.6" r="2.3"/></g></g>
</g>
<rect x="1410.3" y="282.3" width="471.4" height="589.2" fill="#e60000" opacity="0.085"/>
<text x="98.2" y="874.8" font-size="21" fill="#444" text-anchor="end">0%</text>
<text x="98.2" y="757.8" font-size="21" fill="#444" text-anchor="end">20%</text>
<text x="98.2" y="640.7" font-size="21" fill="#444" text-anchor="end">40%</text>
<text x="98.2" y="523.7" font-size="21" fill="#444" text-anchor="end">60%</text>
<text x="98.2" y="406.6" font-size="21" fill="#444" text-anchor="end">80%</text>
<text x="98.2" y="289.6" font-size="21" fill="#444" text-anchor="end">100%</text>
<text x="375" y="891" font-size="21" fill="#444" text-anchor="middle" textLength="53.5">05:00</text>
<text x="657.3" y="891" font-size="21" fill="#444" text-anchor="middle" textLength="53.5">06:00</text>
<text x="939.5" y="891" font-size="21" fill="#444" text-anchor="middle" textLength="53.5">07:00</text>
<text x="1221.7" y="891" font-size="21" fill="#444" text-anchor="middle" textLength="53.5">08:00</text>
<text x="1503.9" y="891" font-size="21" fill="#444" text-anchor="middle" textLength="53.5">09:00</text>
<text x="1786.1" y="891" font-size="21" fill="#444" text-anchor="middle" textLength="53.5">10:00</text>
<text x="2068.3" y="891" font-size="21" fill="#444" text-anchor="middle" textLength="53.5">11:00</text>
<text x="375" y="918.9" font-size="21" fill="#444" text-anchor="middle" textLength="129">Aug 30, 2024</text>
<text x="1091" y="959.6" font-size="24.6" font-weight="bold" fill="#444" stroke="#444" stroke-width="0.35" text-anchor="middle" textLength="126">Time(UTC)</text>
<text transform="translate(32.5,560) rotate(-90)" font-size="25" font-weight="bold" fill="#444" stroke="#444" stroke-width="0.7" text-anchor="middle" textLength="108">#/24s Up</text>
<g opacity="1"><line x1="170.0" y1="986.1" x2="223.0" y2="986.1" stroke="rgb(102,194,165)" stroke-width="1.9" opacity="0.85"/><circle cx="196.5" cy="986.1" r="2.3" fill="rgb(102,194,165)"/></g>
<text x="232.0" y="994.0" font-size="21.5" fill="#444" letter-spacing="0.45">Amazonas</text>
<g opacity="1"><line x1="496.5" y1="986.1" x2="549.5" y2="986.1" stroke="rgb(144,179,146)" stroke-width="1.9" opacity="0.85"/><circle cx="523.0" cy="986.1" r="2.3" fill="rgb(144,179,146)"/></g>
<text x="558.5" y="994.0" font-size="21.5" fill="#444" letter-spacing="0.45">Anzoátegui</text>
<g opacity="1"><line x1="823.0" y1="986.1" x2="876.0" y2="986.1" stroke="rgb(186,164,127)" stroke-width="1.9" opacity="0.85"/><circle cx="849.5" cy="986.1" r="2.3" fill="rgb(186,164,127)"/></g>
<text x="885.0" y="994.0" font-size="21.5" fill="#444" letter-spacing="0.45">Apure</text>
<g opacity="1"><line x1="1149.5" y1="986.1" x2="1202.5" y2="986.1" stroke="rgb(228,149,109)" stroke-width="1.9" opacity="0.85"/><circle cx="1176.0" cy="986.1" r="2.3" fill="rgb(228,149,109)"/></g>
<text x="1211.5" y="994.0" font-size="21.5" fill="#444" letter-spacing="0.45">Aragua</text>
<g opacity="1"><line x1="1476.0" y1="986.1" x2="1529.0" y2="986.1" stroke="rgb(239,143,111)" stroke-width="1.9" opacity="0.85"/><circle cx="1502.5" cy="986.1" r="2.3" fill="rgb(239,143,111)"/></g>
<text x="1538.0" y="994.0" font-size="21.5" fill="#444" letter-spacing="0.45">Barinas</text>
<g opacity="1"><line x1="1802.5" y1="986.1" x2="1855.5" y2="986.1" stroke="rgb(208,149,140)" stroke-width="1.9" opacity="0.85"/><circle cx="1829.0" cy="986.1" r="2.3" fill="rgb(208,149,140)"/></g>
<text x="1864.5" y="994.0" font-size="21.5" fill="#444" letter-spacing="0.45">Bolívar</text>
<g opacity="1"><line x1="170.0" y1="1020.2" x2="223.0" y2="1020.2" stroke="rgb(177,154,169)" stroke-width="1.9" opacity="0.85"/><circle cx="196.5" cy="1020.2" r="2.3" fill="rgb(177,154,169)"/></g>
<text x="232.0" y="1028.1" font-size="21.5" fill="#444" letter-spacing="0.45">Carabobo</text>
<g opacity="1"><line x1="496.5" y1="1020.2" x2="549.5" y2="1020.2" stroke="rgb(145,159,199)" stroke-width="1.9" opacity="0.85"/><circle cx="523.0" cy="1020.2" r="2.3" fill="rgb(145,159,199)"/></g>
<text x="558.5" y="1028.1" font-size="21.5" fill="#444" letter-spacing="0.45">Cojedes</text>
<g opacity="1"><line x1="823.0" y1="1020.2" x2="876.0" y2="1020.2" stroke="rgb(163,155,201)" stroke-width="1.9" opacity="0.85"/><circle cx="849.5" cy="1020.2" r="2.3" fill="rgb(163,155,201)"/></g>
<text x="885.0" y="1028.1" font-size="21.5" fill="#444" letter-spacing="0.45">Delta Amacuro</text>
<g opacity="1"><line x1="1149.5" y1="1020.2" x2="1202.5" y2="1020.2" stroke="rgb(188,149,199)" stroke-width="1.9" opacity="0.85"/><circle cx="1176.0" cy="1020.2" r="2.3" fill="rgb(188,149,199)"/></g>
<text x="1211.5" y="1028.1" font-size="21.5" fill="#444" letter-spacing="0.45">Dependencias Federales</text>
<g opacity="1"><line x1="1476.0" y1="1020.2" x2="1529.0" y2="1020.2" stroke="rgb(213,142,197)" stroke-width="1.9" opacity="0.85"/><circle cx="1502.5" cy="1020.2" r="2.3" fill="rgb(213,142,197)"/></g>
<text x="1538.0" y="1028.1" font-size="21.5" fill="#444" letter-spacing="0.45">Distrito Capital</text>
<g opacity="1"><line x1="1802.5" y1="1020.2" x2="1855.5" y2="1020.2" stroke="rgb(226,144,186)" stroke-width="1.9" opacity="0.85"/><circle cx="1829.0" cy="1020.2" r="2.3" fill="rgb(226,144,186)"/></g>
<text x="1864.5" y="1028.1" font-size="21.5" fill="#444" letter-spacing="0.45">Falcón</text>
<g opacity="1"><line x1="170.0" y1="1054.3" x2="223.0" y2="1054.3" stroke="rgb(208,166,155)" stroke-width="1.9" opacity="0.85"/><circle cx="196.5" cy="1054.3" r="2.3" fill="rgb(208,166,155)"/></g>
<text x="232.0" y="1062.2" font-size="21.5" fill="#444" letter-spacing="0.45">Guárico</text>
<g opacity="1"><line x1="496.5" y1="1054.3" x2="549.5" y2="1054.3" stroke="rgb(189,188,124)" stroke-width="1.9" opacity="0.85"/><circle cx="523.0" cy="1054.3" r="2.3" fill="rgb(189,188,124)"/></g>
<text x="558.5" y="1062.2" font-size="21.5" fill="#444" letter-spacing="0.45">Lara</text>
<g opacity="1"><line x1="823.0" y1="1054.3" x2="876.0" y2="1054.3" stroke="rgb(171,210,93)" stroke-width="1.9" opacity="0.85"/><circle cx="849.5" cy="1054.3" r="2.3" fill="rgb(171,210,93)"/></g>
<text x="885.0" y="1062.2" font-size="21.5" fill="#444" letter-spacing="0.45">Mérida</text>
<g opacity="1"><line x1="1149.5" y1="1054.3" x2="1202.5" y2="1054.3" stroke="rgb(184,216,77)" stroke-width="1.9" opacity="0.85"/><circle cx="1176.0" cy="1054.3" r="2.3" fill="rgb(184,216,77)"/></g>
<text x="1211.5" y="1062.2" font-size="21.5" fill="#444" letter-spacing="0.45">Miranda</text>
<g opacity="1"><line x1="1476.0" y1="1054.3" x2="1529.0" y2="1054.3" stroke="rgb(209,216,66)" stroke-width="1.9" opacity="0.85"/><circle cx="1502.5" cy="1054.3" r="2.3" fill="rgb(209,216,66)"/></g>
<text x="1538.0" y="1062.2" font-size="21.5" fill="#444" letter-spacing="0.45">Monagas</text>
<g opacity="1"><line x1="1802.5" y1="1054.3" x2="1855.5" y2="1054.3" stroke="rgb(234,217,56)" stroke-width="1.9" opacity="0.85"/><circle cx="1829.0" cy="1054.3" r="2.3" fill="rgb(234,217,56)"/></g>
<text x="1864.5" y="1062.2" font-size="21.5" fill="#444" letter-spacing="0.45">Nueva Esparta</text>
<g opacity="1"><line x1="170.0" y1="1088.4" x2="223.0" y2="1088.4" stroke="rgb(254,216,51)" stroke-width="1.9" opacity="0.85"/><circle cx="196.5" cy="1088.4" r="2.3" fill="rgb(254,216,51)"/></g>
<text x="232.0" y="1096.3" font-size="21.5" fill="#444" letter-spacing="0.45">Portuguesa</text>
<g opacity="1"><line x1="496.5" y1="1088.4" x2="549.5" y2="1088.4" stroke="rgb(247,210,79)" stroke-width="1.9" opacity="0.85"/><circle cx="523.0" cy="1088.4" r="2.3" fill="rgb(247,210,79)"/></g>
<text x="558.5" y="1096.3" font-size="21.5" fill="#444" letter-spacing="0.45">Sucre</text>
<g opacity="1"><line x1="823.0" y1="1088.4" x2="876.0" y2="1088.4" stroke="rgb(239,204,108)" stroke-width="1.9" opacity="0.85"/><circle cx="849.5" cy="1088.4" r="2.3" fill="rgb(239,204,108)"/></g>
<text x="885.0" y="1096.3" font-size="21.5" fill="#444" letter-spacing="0.45">Táchira</text>
<g opacity="1"><line x1="1149.5" y1="1088.4" x2="1202.5" y2="1088.4" stroke="rgb(232,199,136)" stroke-width="1.9" opacity="0.85"/><circle cx="1176.0" cy="1088.4" r="2.3" fill="rgb(232,199,136)"/></g>
<text x="1211.5" y="1096.3" font-size="21.5" fill="#444" letter-spacing="0.45">Trujillo</text>
<g opacity="1"><line x1="1476.0" y1="1088.4" x2="1529.0" y2="1088.4" stroke="rgb(221,193,153)" stroke-width="1.9" opacity="0.85"/><circle cx="1502.5" cy="1088.4" r="2.3" fill="rgb(221,193,153)"/></g>
<text x="1538.0" y="1096.3" font-size="21.5" fill="#444" letter-spacing="0.45">Vargas</text>
<g opacity="1"><line x1="1802.5" y1="1088.4" x2="1855.5" y2="1088.4" stroke="rgb(207,189,162)" stroke-width="1.9" opacity="0.85"/><circle cx="1829.0" cy="1088.4" r="2.3" fill="rgb(207,189,162)"/></g>
<text x="1864.5" y="1096.3" font-size="21.5" fill="#444" letter-spacing="0.45">Venezuela</text>
<g opacity="1"><line x1="170.0" y1="1122.5" x2="223.0" y2="1122.5" stroke="rgb(193,184,170)" stroke-width="1.9" opacity="0.85"/><circle cx="196.5" cy="1122.5" r="2.3" fill="rgb(193,184,170)"/></g>
<text x="232.0" y="1130.4" font-size="21.5" fill="#444" letter-spacing="0.45">Yaracuy</text>
<g opacity="1"><line x1="496.5" y1="1122.5" x2="549.5" y2="1122.5" stroke="rgb(179,179,179)" stroke-width="1.9" opacity="0.85"/><circle cx="523.0" cy="1122.5" r="2.3" fill="rgb(179,179,179)"/></g>
<text x="558.5" y="1130.4" font-size="21.5" fill="#444" letter-spacing="0.45">Zulia</text>
<rect x="1002" y="322" width="352" height="59.5" rx="29.75" fill="#ada08a"/>
<text x="1046.8" y="365.3" font-size="34" font-weight="bold" fill="#fff" stroke="#fff" stroke-width="0.5" textLength="265">Nacional: 19.8%</text>
<rect x="1004" y="412" width="352" height="59.5" rx="29.75" fill="#98a2c8"/>
<text x="1068" y="455.5" font-size="34" font-weight="bold" fill="#fff" stroke="#fff" stroke-width="0.5" textLength="226.6">Cojedes: 4.4%</text>
<rect x="1002" y="502.3" width="352" height="59.5" rx="29.75" fill="#e5977a"/>
<text x="1067.5" y="545.7" font-size="34" font-weight="bold" fill="#fff" stroke="#fff" stroke-width="0.5" textLength="223.5">Barinas: 5.9%</text>
<rect x="1002" y="592" width="352" height="59.5" rx="29.75" fill="#f1d46e"/>
<text x="1083.7" y="635.3" font-size="34" font-weight="bold" fill="#fff" stroke="#fff" stroke-width="0.5" textLength="190.3">Sucre: 3.9%</text>
<rect x="1004" y="682" width="352" height="59.5" rx="29.75" fill="#e4cc9a"/>
<text x="1072.7" y="725.5" font-size="34" font-weight="bold" fill="#fff" stroke="#fff" stroke-width="0.5" textLength="216.3">Trujillo: 3.8%</text>
<rect x="1002" y="772.2" width="352" height="59.5" rx="29.75" fill="#a59dc8"/>
<text x="1060.9" y="815.7" font-size="34" font-weight="bold" fill="#fff" stroke="#fff" stroke-width="0.5" textLength="237">Delta A. : 1.5%</text>
<polygon points="68.4,56 706,56 706,160 682,183.6 33,183.6 33,90.5" fill="#2470b8"/>
<text x="92" y="140" font-size="57" fill="#f2f6fb" textLength="547">#reporteConectividad</text>
<text x="2105" y="76.9" font-size="35" fill="#3e5c76" text-anchor="end" textLength="185.6">2024-08-30</text>
<text x="2105" y="127.1" font-size="35" fill="#3e5c76" text-anchor="end" textLength="431.6">Fuente de los datos: IODA</text>
<text x="2105" y="175.8" font-size="35" fill="#3e5c76" text-anchor="end" textLength="394.3">Hora del gráfico en UTC</text>
<rect x="0" y="1206" width="2156" height="144" fill="#161b20"/>
<polygon points="79.2,1253.2 145.7,1253.2 112.6,1290.5" fill="#d3d3d3"/>
<polygon points="102.2,1282.2 112.6,1290.5 121,1302.9 102.2,1302.9" fill="#fcc30b"/>
<polygon points="123,1281.5 113.4,1290.5 123,1301.5" fill="#3f62b4"/>
<polygon points="104.2,1304.8 123,1304.8 123,1326.2" fill="#c82a0c"/>
<g fill="#fff"><circle cx="101.6" cy="1237.9" r="3.6"/><circle cx="127.1" cy="1234.9" r="2.6"/><circle cx="118" cy="1243.8" r="1.8"/><circle cx="131.4" cy="1247" r="1.7"/><circle cx="99" cy="1225.3" r="1.3"/><circle cx="94.8" cy="1249.9" r="1.3"/><circle cx="92.5" cy="1241.4" r="0.9"/><circle cx="131" cy="1225.8" r="0.9"/><circle cx="116.5" cy="1250.3" r="0.8"/><circle cx="108.7" cy="1245.3" r="0.7"/><circle cx="113.5" cy="1236" r="0.7"/><circle cx="81.4" cy="1241.2" r="0.7"/><circle cx="89.6" cy="1231.2" r="0.5"/><circle cx="119.1" cy="1229.5" r="0.5"/><circle cx="140.1" cy="1233.4" r="0.5"/><circle cx="144.7" cy="1242.5" r="0.5"/><circle cx="104.5" cy="1325.6" r="2.6"/><circle cx="112.2" cy="1327.3" r="1.4"/><circle cx="107.8" cy="1316.9" r="1.2"/><circle cx="109.4" cy="1334.4" r="0.7"/></g>
<g fill="none" stroke="#dcdcdc" stroke-width="1.3">
<polyline points="168.6,1254.2 186.3,1313.4 204.5,1254.2"/>
<path d="M242.7,1254.8 H217.6 V1314.3000000000002 H242.7 M217.6,1283.4 H239.5"/>
<path d="M398.2,1254.8 H374.8 V1314.9 M374.8,1284.5 H396"/>
<path d="M413.2,1254.2 V1314.9"/>
<path d="M434.8,1254.2 V1314.3000000000002 H457.7"/>
<path d="M454,1254.8 H488.6 M471.3,1254.8 V1314.9"/>
<path d="M500.5,1314.9 V1254.8 H514 C535,1254.8 535,1284.5 514,1284.5 H500.5 M515,1284.5 L530.8,1314.9"/>
<ellipse cx="562.6" cy="1284.5500000000002" rx="21.2" ry="30.150000000000023"/>
</g>
<g fill="none" stroke="#fff" stroke-width="4.2">
<path stroke-width="4.0" d="M281.6,1260.4 C278.5,1257 274,1255 269,1255 C260.5,1255 254.2,1260.5 254.2,1268.5 C254.2,1276.5 261,1279.5 269,1282.4 C277,1285.3 283.1,1289.5 283.1,1298.1 C283.1,1307 276.5,1313.5 267.1,1313.5 C260.5,1313.5 255.3,1311 252.1,1307.7"/>
<path d="M300.9,1254.2 V1314.9"/>
<clipPath id="nc"><rect x="318" y="1254.6000000000001" width="42" height="60.30000000000005"/></clipPath><path clip-path="url(#nc)" d="M322.9,1322.9 V1247.2 L354.2,1321.9 V1246.2" stroke-linejoin="miter" stroke-miterlimit="10"/>
</g>
<text x="1774" y="1264" font-size="36.5" font-weight="bold" fill="#a9a9a9" stroke="#a9a9a9" stroke-width="0.6" textLength="250">@VE<tspan fill="#f2f2f2" stroke="#f2f2f2">sin</tspan>filtro</text>
<text x="1774" y="1313.4" font-size="36.5" font-weight="bold" fill="#a9a9a9" stroke="#a9a9a9" stroke-width="0.6" textLength="312">ve<tspan fill="#f2f2f2" stroke="#f2f2f2">sin</tspan>filtro.com</text>
</svg>
</body></html>
